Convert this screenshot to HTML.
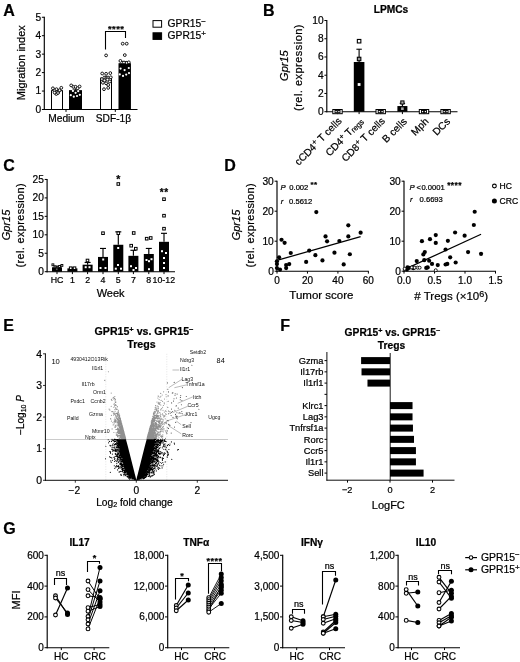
<!DOCTYPE html>
<html><head><meta charset="utf-8"><title>Figure</title>
<style>
html,body{margin:0;padding:0;background:#fff;}
svg{display:block;}
text{font-family:"Liberation Sans",sans-serif;fill:#000;stroke:#000;stroke-width:0.22px;}
</style></head><body>
<svg width="520" height="662" viewBox="0 0 520 662">
<rect width="520" height="662" fill="#fff"/>
<text x="3.2" y="15.9" font-size="16" font-weight="bold">A</text>
<text x="263" y="16" font-size="16" font-weight="bold">B</text>
<text x="3.2" y="171.4" font-size="16" font-weight="bold">C</text>
<text x="224.2" y="171" font-size="16" font-weight="bold">D</text>
<text x="3.2" y="331.1" font-size="16" font-weight="bold">E</text>
<text x="280.2" y="331.1" font-size="16" font-weight="bold">F</text>
<text x="3.2" y="534" font-size="16" font-weight="bold">G</text>
<line x1="44.30" y1="16.75" x2="44.30" y2="110.00" stroke="#000" stroke-width="1.15"/>
<line x1="43.80" y1="109.50" x2="137.50" y2="109.50" stroke="#000" stroke-width="1.15"/>
<line x1="41.90" y1="109.50" x2="44.30" y2="109.50" stroke="#000" stroke-width="1.0"/>
<text x="41.099999999999994" y="112.9" font-size="10.2" text-anchor="end">0</text>
<line x1="41.90" y1="91.05" x2="44.30" y2="91.05" stroke="#000" stroke-width="1.0"/>
<text x="41.099999999999994" y="94.45" font-size="10.2" text-anchor="end">1</text>
<line x1="41.90" y1="72.60" x2="44.30" y2="72.60" stroke="#000" stroke-width="1.0"/>
<text x="41.099999999999994" y="76.0" font-size="10.2" text-anchor="end">2</text>
<line x1="41.90" y1="54.15" x2="44.30" y2="54.15" stroke="#000" stroke-width="1.0"/>
<text x="41.099999999999994" y="57.550000000000004" font-size="10.2" text-anchor="end">3</text>
<line x1="41.90" y1="35.70" x2="44.30" y2="35.70" stroke="#000" stroke-width="1.0"/>
<text x="41.099999999999994" y="39.1" font-size="10.2" text-anchor="end">4</text>
<line x1="41.90" y1="17.25" x2="44.30" y2="17.25" stroke="#000" stroke-width="1.0"/>
<text x="41.099999999999994" y="20.65" font-size="10.2" text-anchor="end">5</text>
<line x1="66.00" y1="109.50" x2="66.00" y2="111.90" stroke="#000" stroke-width="1.0"/>
<line x1="115.30" y1="109.50" x2="115.30" y2="111.90" stroke="#000" stroke-width="1.0"/>
<text x="66.4" y="122.2" font-size="10.2" text-anchor="middle">Medium</text>
<text x="113.4" y="122.2" font-size="10.2" text-anchor="middle">SDF-1β</text>
<text x="25" y="62.7" font-size="11" text-anchor="middle" transform="rotate(-90 25 62.7)" textLength="75">Migration index</text>
<rect x="51.50" y="90.68" width="11.00" height="18.82" fill="#fff" stroke="#000" stroke-width="1.0"/>
<line x1="57.00" y1="89.76" x2="57.00" y2="90.68" stroke="#000" stroke-width="0.9"/>
<line x1="54.00" y1="89.76" x2="60.00" y2="89.76" stroke="#000" stroke-width="0.9"/>
<rect x="69.50" y="90.68" width="12.00" height="18.82" fill="#000" stroke="#000" stroke-width="1.0"/>
<line x1="75.50" y1="89.20" x2="75.50" y2="90.68" stroke="#000" stroke-width="0.9"/>
<line x1="72.50" y1="89.20" x2="78.50" y2="89.20" stroke="#000" stroke-width="0.9"/>
<rect x="100.50" y="78.14" width="11.00" height="31.36" fill="#fff" stroke="#000" stroke-width="1.0"/>
<line x1="106.00" y1="76.29" x2="106.00" y2="78.14" stroke="#000" stroke-width="0.9"/>
<line x1="103.00" y1="76.29" x2="109.00" y2="76.29" stroke="#000" stroke-width="0.9"/>
<rect x="119.00" y="63.74" width="11.40" height="45.76" fill="#000" stroke="#000" stroke-width="1.0"/>
<line x1="124.70" y1="61.53" x2="124.70" y2="63.74" stroke="#000" stroke-width="0.9"/>
<line x1="121.70" y1="61.53" x2="127.70" y2="61.53" stroke="#000" stroke-width="0.9"/>
<circle cx="52.90" cy="88.30" r="1.4" fill="#fff" stroke="#000" stroke-width="0.9"/>
<circle cx="54.60" cy="90.40" r="1.4" fill="#fff" stroke="#000" stroke-width="0.9"/>
<circle cx="56.50" cy="89.20" r="1.4" fill="#fff" stroke="#000" stroke-width="0.9"/>
<circle cx="56.30" cy="94.00" r="1.4" fill="#fff" stroke="#000" stroke-width="0.9"/>
<circle cx="58.50" cy="91.60" r="1.4" fill="#fff" stroke="#000" stroke-width="0.9"/>
<circle cx="59.60" cy="90.20" r="1.4" fill="#fff" stroke="#000" stroke-width="0.9"/>
<circle cx="61.30" cy="87.80" r="1.4" fill="#fff" stroke="#000" stroke-width="0.9"/>
<circle cx="54.60" cy="92.60" r="1.4" fill="#fff" stroke="#000" stroke-width="0.9"/>
<circle cx="58.00" cy="93.00" r="1.4" fill="#fff" stroke="#000" stroke-width="0.9"/>
<circle cx="71.20" cy="85.40" r="1.4" fill="#fff" stroke="#000" stroke-width="0.9"/>
<circle cx="73.40" cy="86.80" r="1.4" fill="#fff" stroke="#000" stroke-width="0.9"/>
<circle cx="75.60" cy="86.80" r="1.4" fill="#fff" stroke="#000" stroke-width="0.9"/>
<circle cx="79.60" cy="86.50" r="1.4" fill="#fff" stroke="#000" stroke-width="0.9"/>
<circle cx="77.60" cy="88.20" r="1.4" fill="#fff" stroke="#000" stroke-width="0.9"/>
<circle cx="72.90" cy="90.90" r="1.1" fill="#fff"/>
<circle cx="78.20" cy="91.20" r="1.1" fill="#fff"/>
<circle cx="70.80" cy="95.20" r="1.1" fill="#fff"/>
<circle cx="73.80" cy="96.70" r="1.1" fill="#fff"/>
<circle cx="77.00" cy="96.00" r="1.1" fill="#fff"/>
<circle cx="79.80" cy="94.80" r="1.1" fill="#fff"/>
<circle cx="75.60" cy="92.80" r="1.1" fill="#fff"/>
<circle cx="106.10" cy="55.40" r="1.4" fill="#fff" stroke="#000" stroke-width="0.9"/>
<circle cx="102.20" cy="73.50" r="1.4" fill="#fff" stroke="#000" stroke-width="0.9"/>
<circle cx="106.10" cy="73.80" r="1.4" fill="#fff" stroke="#000" stroke-width="0.9"/>
<circle cx="110.30" cy="73.10" r="1.4" fill="#fff" stroke="#000" stroke-width="0.9"/>
<circle cx="110.80" cy="77.30" r="1.4" fill="#fff" stroke="#000" stroke-width="0.9"/>
<circle cx="101.90" cy="79.10" r="1.4" fill="#fff" stroke="#000" stroke-width="0.9"/>
<circle cx="104.50" cy="80.50" r="1.4" fill="#fff" stroke="#000" stroke-width="0.9"/>
<circle cx="107.50" cy="79.60" r="1.4" fill="#fff" stroke="#000" stroke-width="0.9"/>
<circle cx="109.80" cy="81.50" r="1.4" fill="#fff" stroke="#000" stroke-width="0.9"/>
<circle cx="102.90" cy="82.80" r="1.4" fill="#fff" stroke="#000" stroke-width="0.9"/>
<circle cx="106.10" cy="83.30" r="1.4" fill="#fff" stroke="#000" stroke-width="0.9"/>
<circle cx="108.20" cy="84.90" r="1.4" fill="#fff" stroke="#000" stroke-width="0.9"/>
<circle cx="104.00" cy="89.20" r="1.4" fill="#fff" stroke="#000" stroke-width="0.9"/>
<circle cx="108.20" cy="87.90" r="1.4" fill="#fff" stroke="#000" stroke-width="0.9"/>
<circle cx="122.70" cy="43.70" r="1.4" fill="#fff" stroke="#000" stroke-width="0.9"/>
<circle cx="126.70" cy="43.70" r="1.4" fill="#fff" stroke="#000" stroke-width="0.9"/>
<circle cx="124.80" cy="55.10" r="1.4" fill="#fff" stroke="#000" stroke-width="0.9"/>
<circle cx="120.40" cy="60.90" r="1.4" fill="#fff" stroke="#000" stroke-width="0.9"/>
<circle cx="124.00" cy="62.50" r="1.4" fill="#fff" stroke="#000" stroke-width="0.9"/>
<circle cx="126.70" cy="62.80" r="1.4" fill="#fff" stroke="#000" stroke-width="0.9"/>
<circle cx="128.80" cy="62.30" r="1.4" fill="#fff" stroke="#000" stroke-width="0.9"/>
<circle cx="120.60" cy="68.60" r="1.1" fill="#fff"/>
<circle cx="128.80" cy="68.00" r="1.1" fill="#fff"/>
<circle cx="124.60" cy="70.10" r="1.1" fill="#fff"/>
<circle cx="129.00" cy="73.10" r="1.1" fill="#fff"/>
<circle cx="119.80" cy="74.40" r="1.1" fill="#fff"/>
<circle cx="126.20" cy="74.60" r="1.1" fill="#fff"/>
<circle cx="123.00" cy="75.90" r="1.1" fill="#fff"/>
<polyline points="105.50,49.50 105.50,31.50 125.50,31.50 125.50,38.00" fill="none" stroke="#000" stroke-width="1.1"/>
<text x="116.2" y="31.6" font-size="9.4" text-anchor="middle" font-weight="bold" letter-spacing="0.5">****</text>
<rect x="153.00" y="20.60" width="8.60" height="6.60" fill="#fff" stroke="#000" stroke-width="1.0"/>
<rect x="153.00" y="32.80" width="8.60" height="6.60" fill="#000" stroke="#000" stroke-width="1.0"/>
<text x="167.5" y="27.3" font-size="10.3">GPR15<tspan font-size="78%" dy="-0.42em">−</tspan></text>
<text x="167.5" y="39.3" font-size="10.3">GPR15<tspan font-size="78%" dy="-0.42em">+</tspan></text>
<line x1="326.80" y1="20.00" x2="326.80" y2="112.20" stroke="#000" stroke-width="1.15"/>
<line x1="326.30" y1="111.70" x2="457.50" y2="111.70" stroke="#000" stroke-width="1.15"/>
<line x1="324.40" y1="111.70" x2="326.80" y2="111.70" stroke="#000" stroke-width="1.0"/>
<text x="323.6" y="115.10000000000001" font-size="10.2" text-anchor="end">0</text>
<line x1="324.40" y1="93.46" x2="326.80" y2="93.46" stroke="#000" stroke-width="1.0"/>
<text x="323.6" y="96.86000000000001" font-size="10.2" text-anchor="end">2</text>
<line x1="324.40" y1="75.22" x2="326.80" y2="75.22" stroke="#000" stroke-width="1.0"/>
<text x="323.6" y="78.62" font-size="10.2" text-anchor="end">4</text>
<line x1="324.40" y1="56.98" x2="326.80" y2="56.98" stroke="#000" stroke-width="1.0"/>
<text x="323.6" y="60.38" font-size="10.2" text-anchor="end">6</text>
<line x1="324.40" y1="38.74" x2="326.80" y2="38.74" stroke="#000" stroke-width="1.0"/>
<text x="323.6" y="42.14000000000001" font-size="10.2" text-anchor="end">8</text>
<line x1="324.40" y1="20.50" x2="326.80" y2="20.50" stroke="#000" stroke-width="1.0"/>
<text x="323.6" y="23.900000000000013" font-size="10.2" text-anchor="end">10</text>
<text x="391" y="12.6" font-size="10.2" text-anchor="middle" font-weight="bold">LPMCs</text>
<text x="287.9" y="65.6" font-size="11" text-anchor="middle" font-style="italic" transform="rotate(-90 287.9 65.6)">Gpr15</text>
<text x="302.2" y="67.7" font-size="11" text-anchor="middle" transform="rotate(-90 302.2 67.7)" textLength="86.5">(rel. expression)</text>
<line x1="337.50" y1="111.70" x2="337.50" y2="114.10" stroke="#000" stroke-width="1.0"/>
<text x="342.7" y="122.10000000000001" font-size="10.2" text-anchor="end" transform="rotate(-45 342.7 122.10000000000001)">cCD4<tspan font-size="78%" dy="-0.42em">+</tspan><tspan dy="0.28em"> T cells</tspan></text>
<line x1="359.10" y1="111.70" x2="359.10" y2="114.10" stroke="#000" stroke-width="1.0"/>
<text x="364.3" y="122.10000000000001" font-size="10.2" text-anchor="end" transform="rotate(-45 364.3 122.10000000000001)">CD4<tspan font-size="78%" dy="-0.42em">+</tspan><tspan dy="0.28em"> T</tspan><tspan font-size="76%" dy="0.12em">regs</tspan></text>
<line x1="380.70" y1="111.70" x2="380.70" y2="114.10" stroke="#000" stroke-width="1.0"/>
<text x="385.9" y="122.10000000000001" font-size="10.2" text-anchor="end" transform="rotate(-45 385.9 122.10000000000001)">CD8<tspan font-size="78%" dy="-0.42em">+</tspan><tspan dy="0.28em"> T cells</tspan></text>
<line x1="402.40" y1="111.70" x2="402.40" y2="114.10" stroke="#000" stroke-width="1.0"/>
<text x="407.59999999999997" y="122.10000000000001" font-size="10.2" text-anchor="end" transform="rotate(-45 407.59999999999997 122.10000000000001)">B cells</text>
<line x1="424.00" y1="111.70" x2="424.00" y2="114.10" stroke="#000" stroke-width="1.0"/>
<text x="429.2" y="122.10000000000001" font-size="10.2" text-anchor="end" transform="rotate(-45 429.2 122.10000000000001)">Mph</text>
<line x1="445.60" y1="111.70" x2="445.60" y2="114.10" stroke="#000" stroke-width="1.0"/>
<text x="450.8" y="122.10000000000001" font-size="10.2" text-anchor="end" transform="rotate(-45 450.8 122.10000000000001)">DCs</text>
<rect x="353.80" y="62.00" width="10.60" height="49.70" fill="#000"/>
<line x1="359.10" y1="49.23" x2="359.10" y2="62.00" stroke="#000" stroke-width="1.1"/>
<line x1="356.40" y1="49.23" x2="361.80" y2="49.23" stroke="#000" stroke-width="1.1"/>
<rect x="397.40" y="106.05" width="10.00" height="5.65" fill="#000"/>
<line x1="402.40" y1="103.31" x2="402.40" y2="106.05" stroke="#000" stroke-width="1.1"/>
<line x1="399.70" y1="103.31" x2="405.10" y2="103.31" stroke="#000" stroke-width="1.1"/>
<rect x="332.80" y="109.50" width="9.40" height="4.20" fill="#fff" stroke="#000" stroke-width="1.0"/>
<rect x="335.00" y="110.50" width="2.20" height="2.20" fill="#fff" stroke="#000" stroke-width="0.9"/>
<rect x="337.80" y="110.50" width="2.20" height="2.20" fill="#fff" stroke="#000" stroke-width="0.9"/>
<rect x="376.00" y="109.50" width="9.40" height="4.20" fill="#fff" stroke="#000" stroke-width="1.0"/>
<rect x="378.20" y="110.50" width="2.20" height="2.20" fill="#fff" stroke="#000" stroke-width="0.9"/>
<rect x="381.00" y="110.50" width="2.20" height="2.20" fill="#fff" stroke="#000" stroke-width="0.9"/>
<rect x="419.30" y="109.50" width="9.40" height="4.20" fill="#fff" stroke="#000" stroke-width="1.0"/>
<rect x="421.50" y="110.50" width="2.20" height="2.20" fill="#fff" stroke="#000" stroke-width="0.9"/>
<rect x="424.30" y="110.50" width="2.20" height="2.20" fill="#fff" stroke="#000" stroke-width="0.9"/>
<rect x="440.90" y="109.50" width="9.40" height="4.20" fill="#fff" stroke="#000" stroke-width="1.0"/>
<rect x="443.10" y="110.50" width="2.20" height="2.20" fill="#fff" stroke="#000" stroke-width="0.9"/>
<rect x="445.90" y="110.50" width="2.20" height="2.20" fill="#fff" stroke="#000" stroke-width="0.9"/>
<rect x="357.35" y="39.45" width="3.50" height="3.50" fill="#fff" stroke="#000" stroke-width="1.1"/>
<rect x="357.35" y="57.25" width="3.50" height="3.50" fill="#999" stroke="#000" stroke-width="1.1"/>
<rect x="357.70" y="83.10" width="2.80" height="2.80" fill="#fff"/>
<rect x="400.80" y="100.90" width="3.20" height="3.20" fill="#aaa" stroke="#000" stroke-width="1.0"/>
<rect x="401.10" y="107.40" width="2.60" height="2.60" fill="#aaa"/>
<line x1="47.10" y1="178.95" x2="47.10" y2="272.20" stroke="#000" stroke-width="1.15"/>
<line x1="46.60" y1="271.70" x2="175.00" y2="271.70" stroke="#000" stroke-width="1.15"/>
<line x1="44.70" y1="271.70" x2="47.10" y2="271.70" stroke="#000" stroke-width="1.0"/>
<text x="43.9" y="275.09999999999997" font-size="10.2" text-anchor="end">0</text>
<line x1="44.70" y1="253.25" x2="47.10" y2="253.25" stroke="#000" stroke-width="1.0"/>
<text x="43.9" y="256.65" font-size="10.2" text-anchor="end">5</text>
<line x1="44.70" y1="234.80" x2="47.10" y2="234.80" stroke="#000" stroke-width="1.0"/>
<text x="43.9" y="238.2" font-size="10.2" text-anchor="end">10</text>
<line x1="44.70" y1="216.35" x2="47.10" y2="216.35" stroke="#000" stroke-width="1.0"/>
<text x="43.9" y="219.75" font-size="10.2" text-anchor="end">15</text>
<line x1="44.70" y1="197.90" x2="47.10" y2="197.90" stroke="#000" stroke-width="1.0"/>
<text x="43.9" y="201.29999999999998" font-size="10.2" text-anchor="end">20</text>
<line x1="44.70" y1="179.45" x2="47.10" y2="179.45" stroke="#000" stroke-width="1.0"/>
<text x="43.9" y="182.85" font-size="10.2" text-anchor="end">25</text>
<text x="10.4" y="225" font-size="11" text-anchor="middle" font-style="italic" transform="rotate(-90 10.4 225)">Gpr15</text>
<text x="24" y="225.4" font-size="11" text-anchor="middle" transform="rotate(-90 24 225.4)" textLength="84">(rel. expression)</text>
<line x1="57.00" y1="271.70" x2="57.00" y2="274.10" stroke="#000" stroke-width="1.0"/>
<text x="57" y="283.3" font-size="8.8" text-anchor="middle">HC</text>
<rect x="52.00" y="267.27" width="10.00" height="4.43" fill="#000"/>
<line x1="57.00" y1="266.16" x2="57.00" y2="267.27" stroke="#000" stroke-width="1.15"/>
<line x1="54.00" y1="266.16" x2="60.00" y2="266.16" stroke="#000" stroke-width="1.15"/>
<line x1="72.40" y1="271.70" x2="72.40" y2="274.10" stroke="#000" stroke-width="1.0"/>
<text x="72.4" y="283.3" font-size="8.8" text-anchor="middle">1</text>
<rect x="67.40" y="268.38" width="10.00" height="3.32" fill="#000"/>
<line x1="72.40" y1="267.83" x2="72.40" y2="268.38" stroke="#000" stroke-width="1.15"/>
<line x1="69.40" y1="267.83" x2="75.40" y2="267.83" stroke="#000" stroke-width="1.15"/>
<line x1="87.60" y1="271.70" x2="87.60" y2="274.10" stroke="#000" stroke-width="1.0"/>
<text x="87.6" y="283.3" font-size="8.8" text-anchor="middle">2</text>
<rect x="82.60" y="264.69" width="10.00" height="7.01" fill="#000"/>
<line x1="87.60" y1="262.47" x2="87.60" y2="264.69" stroke="#000" stroke-width="1.15"/>
<line x1="84.60" y1="262.47" x2="90.60" y2="262.47" stroke="#000" stroke-width="1.15"/>
<line x1="103.00" y1="271.70" x2="103.00" y2="274.10" stroke="#000" stroke-width="1.0"/>
<text x="103" y="283.3" font-size="8.8" text-anchor="middle">4</text>
<rect x="98.00" y="256.94" width="10.00" height="14.76" fill="#000"/>
<line x1="103.00" y1="248.45" x2="103.00" y2="256.94" stroke="#000" stroke-width="1.15"/>
<line x1="100.00" y1="248.45" x2="106.00" y2="248.45" stroke="#000" stroke-width="1.15"/>
<line x1="118.30" y1="271.70" x2="118.30" y2="274.10" stroke="#000" stroke-width="1.0"/>
<text x="118.3" y="283.3" font-size="8.8" text-anchor="middle">5</text>
<rect x="113.30" y="244.76" width="10.00" height="26.94" fill="#000"/>
<line x1="118.30" y1="231.85" x2="118.30" y2="244.76" stroke="#000" stroke-width="1.15"/>
<line x1="115.30" y1="231.85" x2="121.30" y2="231.85" stroke="#000" stroke-width="1.15"/>
<line x1="133.40" y1="271.70" x2="133.40" y2="274.10" stroke="#000" stroke-width="1.0"/>
<text x="133.4" y="283.3" font-size="8.8" text-anchor="middle">7</text>
<rect x="128.40" y="255.83" width="10.00" height="15.87" fill="#000"/>
<line x1="133.40" y1="250.30" x2="133.40" y2="255.83" stroke="#000" stroke-width="1.15"/>
<line x1="130.40" y1="250.30" x2="136.40" y2="250.30" stroke="#000" stroke-width="1.15"/>
<line x1="148.80" y1="271.70" x2="148.80" y2="274.10" stroke="#000" stroke-width="1.0"/>
<text x="148.8" y="283.3" font-size="8.8" text-anchor="middle">8</text>
<rect x="143.80" y="253.99" width="10.00" height="17.71" fill="#000"/>
<line x1="148.80" y1="248.45" x2="148.80" y2="253.99" stroke="#000" stroke-width="1.15"/>
<line x1="145.80" y1="248.45" x2="151.80" y2="248.45" stroke="#000" stroke-width="1.15"/>
<line x1="164.00" y1="271.70" x2="164.00" y2="274.10" stroke="#000" stroke-width="1.0"/>
<text x="163.8" y="283.3" font-size="8.8" text-anchor="middle">10-12</text>
<rect x="159.00" y="241.81" width="10.00" height="29.89" fill="#000"/>
<line x1="164.00" y1="233.32" x2="164.00" y2="241.81" stroke="#000" stroke-width="1.15"/>
<line x1="161.00" y1="233.32" x2="167.00" y2="233.32" stroke="#000" stroke-width="1.15"/>
<text x="110.6" y="297" font-size="11" text-anchor="middle">Week</text>
<rect x="69.40" y="266.90" width="2.60" height="2.60" fill="#fff" stroke="#000" stroke-width="1.0"/>
<rect x="73.20" y="266.90" width="2.60" height="2.60" fill="#fff" stroke="#000" stroke-width="1.0"/>
<rect x="86.20" y="259.20" width="2.60" height="2.60" fill="#fff" stroke="#000" stroke-width="1.0"/>
<rect x="101.70" y="231.90" width="2.60" height="2.60" fill="#fff" stroke="#000" stroke-width="1.0"/>
<rect x="117.00" y="182.70" width="2.60" height="2.60" fill="#fff" stroke="#000" stroke-width="1.0"/>
<rect x="117.00" y="231.90" width="2.60" height="2.60" fill="#fff" stroke="#000" stroke-width="1.0"/>
<rect x="132.40" y="231.70" width="2.60" height="2.60" fill="#fff" stroke="#000" stroke-width="1.0"/>
<rect x="129.90" y="244.40" width="2.60" height="2.60" fill="#fff" stroke="#000" stroke-width="1.0"/>
<rect x="134.50" y="247.40" width="2.60" height="2.60" fill="#fff" stroke="#000" stroke-width="1.0"/>
<rect x="145.40" y="237.40" width="2.60" height="2.60" fill="#fff" stroke="#000" stroke-width="1.0"/>
<rect x="149.40" y="236.70" width="2.60" height="2.60" fill="#fff" stroke="#000" stroke-width="1.0"/>
<rect x="162.70" y="197.90" width="2.60" height="2.60" fill="#fff" stroke="#000" stroke-width="1.0"/>
<rect x="162.70" y="214.40" width="2.60" height="2.60" fill="#fff" stroke="#000" stroke-width="1.0"/>
<rect x="162.70" y="227.40" width="2.60" height="2.60" fill="#fff" stroke="#000" stroke-width="1.0"/>
<rect x="51.95" y="263.85" width="1.90" height="1.90" fill="#fff" stroke="#000" stroke-width="0.9"/>
<rect x="54.05" y="265.95" width="1.90" height="1.90" fill="#fff" stroke="#000" stroke-width="0.9"/>
<rect x="55.95" y="268.15" width="1.90" height="1.90" fill="#fff" stroke="#000" stroke-width="0.9"/>
<rect x="58.65" y="265.55" width="1.90" height="1.90" fill="#fff" stroke="#000" stroke-width="0.9"/>
<rect x="60.95" y="264.45" width="1.90" height="1.90" fill="#fff" stroke="#000" stroke-width="0.9"/>
<rect x="84.70" y="266.20" width="2.00" height="2.00" fill="#fff"/>
<rect x="88.50" y="266.20" width="2.00" height="2.00" fill="#fff"/>
<rect x="102.20" y="258.50" width="2.00" height="2.00" fill="#fff"/>
<rect x="99.50" y="267.00" width="2.00" height="2.00" fill="#fff"/>
<rect x="104.50" y="267.00" width="2.00" height="2.00" fill="#fff"/>
<rect x="117.20" y="247.00" width="2.00" height="2.00" fill="#fff"/>
<rect x="117.00" y="264.00" width="2.00" height="2.00" fill="#fff"/>
<rect x="114.80" y="267.70" width="2.00" height="2.00" fill="#fff"/>
<rect x="120.00" y="267.70" width="2.00" height="2.00" fill="#fff"/>
<rect x="130.00" y="265.20" width="2.00" height="2.00" fill="#fff"/>
<rect x="132.50" y="269.00" width="2.00" height="2.00" fill="#fff"/>
<rect x="135.00" y="267.00" width="2.00" height="2.00" fill="#fff"/>
<rect x="145.50" y="259.00" width="2.00" height="2.00" fill="#fff"/>
<rect x="148.00" y="260.20" width="2.00" height="2.00" fill="#fff"/>
<rect x="150.50" y="258.20" width="2.00" height="2.00" fill="#fff"/>
<rect x="148.00" y="268.20" width="2.00" height="2.00" fill="#fff"/>
<rect x="161.00" y="250.20" width="2.00" height="2.00" fill="#fff"/>
<rect x="165.00" y="252.00" width="2.00" height="2.00" fill="#fff"/>
<rect x="163.00" y="257.00" width="2.00" height="2.00" fill="#fff"/>
<rect x="163.00" y="262.00" width="2.00" height="2.00" fill="#fff"/>
<rect x="163.00" y="267.00" width="2.00" height="2.00" fill="#fff"/>
<text x="118.3" y="182.6" font-size="10.5" text-anchor="middle" font-weight="bold">*</text>
<text x="164.2" y="195.8" font-size="10" text-anchor="middle" font-weight="bold" letter-spacing="0.5">**</text>
<line x1="277.00" y1="180.70" x2="277.00" y2="271.70" stroke="#000" stroke-width="1.15"/>
<line x1="276.50" y1="271.20" x2="368.80" y2="271.20" stroke="#000" stroke-width="1.15"/>
<line x1="274.60" y1="271.20" x2="277.00" y2="271.20" stroke="#000" stroke-width="1.0"/>
<text x="273.8" y="274.59999999999997" font-size="10.2" text-anchor="end">0</text>
<line x1="274.60" y1="241.20" x2="277.00" y2="241.20" stroke="#000" stroke-width="1.0"/>
<text x="273.8" y="244.6" font-size="10.2" text-anchor="end">10</text>
<line x1="274.60" y1="211.20" x2="277.00" y2="211.20" stroke="#000" stroke-width="1.0"/>
<text x="273.8" y="214.6" font-size="10.2" text-anchor="end">20</text>
<line x1="274.60" y1="181.20" x2="277.00" y2="181.20" stroke="#000" stroke-width="1.0"/>
<text x="273.8" y="184.6" font-size="10.2" text-anchor="end">30</text>
<line x1="277.00" y1="271.20" x2="277.00" y2="273.60" stroke="#000" stroke-width="1.0"/>
<text x="277.0" y="284.4" font-size="10" text-anchor="middle">0</text>
<line x1="307.46" y1="271.20" x2="307.46" y2="273.60" stroke="#000" stroke-width="1.0"/>
<text x="307.46" y="284.4" font-size="10" text-anchor="middle">20</text>
<line x1="337.92" y1="271.20" x2="337.92" y2="273.60" stroke="#000" stroke-width="1.0"/>
<text x="337.92" y="284.4" font-size="10" text-anchor="middle">40</text>
<line x1="368.38" y1="271.20" x2="368.38" y2="273.60" stroke="#000" stroke-width="1.0"/>
<text x="368.38" y="284.4" font-size="10" text-anchor="middle">60</text>
<text x="321.4" y="298.7" font-size="11.5" text-anchor="middle">Tumor score</text>
<text x="240.3" y="225" font-size="11" text-anchor="middle" font-style="italic" transform="rotate(-90 240.3 225)">Gpr15</text>
<text x="253.6" y="225.4" font-size="11" text-anchor="middle" transform="rotate(-90 253.6 225.4)" textLength="84">(rel. expression)</text>
<line x1="276.92" y1="260.38" x2="360.62" y2="236.69" stroke="#000" stroke-width="1.25"/>
<circle cx="316.31" cy="212.08" r="2.1" fill="#000"/>
<circle cx="281.54" cy="239.77" r="2.1" fill="#000"/>
<circle cx="284.62" cy="242.85" r="2.1" fill="#000"/>
<circle cx="348.31" cy="225.31" r="2.1" fill="#000"/>
<circle cx="325.54" cy="236.38" r="2.1" fill="#000"/>
<circle cx="327.08" cy="241.31" r="2.1" fill="#000"/>
<circle cx="348.31" cy="236.38" r="2.1" fill="#000"/>
<circle cx="360.62" cy="232.69" r="2.1" fill="#000"/>
<circle cx="339.38" cy="241.00" r="2.1" fill="#000"/>
<circle cx="290.77" cy="253.00" r="2.1" fill="#000"/>
<circle cx="309.23" cy="250.54" r="2.1" fill="#000"/>
<circle cx="315.38" cy="255.15" r="2.1" fill="#000"/>
<circle cx="334.46" cy="252.69" r="2.1" fill="#000"/>
<circle cx="349.85" cy="254.23" r="2.1" fill="#000"/>
<circle cx="306.15" cy="261.92" r="2.1" fill="#000"/>
<circle cx="322.46" cy="260.38" r="2.1" fill="#000"/>
<circle cx="343.69" cy="264.38" r="2.1" fill="#000"/>
<circle cx="279.08" cy="257.31" r="2.1" fill="#000"/>
<circle cx="276.92" cy="261.31" r="2.1" fill="#000"/>
<circle cx="276.92" cy="264.08" r="2.1" fill="#000"/>
<circle cx="276.92" cy="268.08" r="2.1" fill="#000"/>
<circle cx="280.00" cy="269.62" r="2.1" fill="#000"/>
<circle cx="286.15" cy="265.00" r="2.1" fill="#000"/>
<circle cx="286.15" cy="268.08" r="2.1" fill="#000"/>
<circle cx="289.23" cy="264.08" r="2.1" fill="#000"/>
<text x="280.6" y="190.4" font-size="7.8" font-style="italic">P</text>
<text x="289.3" y="190.4" font-size="7.6">0.002</text>
<text x="310.5" y="187.3" font-size="8" font-weight="bold" letter-spacing="0.4">**</text>
<text x="280.8" y="203.8" font-size="7.8" font-style="italic">r</text>
<text x="289.1" y="203.8" font-size="7.6">0.5612</text>
<line x1="404.00" y1="180.70" x2="404.00" y2="271.70" stroke="#000" stroke-width="1.15"/>
<line x1="403.50" y1="271.20" x2="496.00" y2="271.20" stroke="#000" stroke-width="1.15"/>
<line x1="401.60" y1="271.20" x2="404.00" y2="271.20" stroke="#000" stroke-width="1.0"/>
<text x="400.8" y="274.59999999999997" font-size="10.2" text-anchor="end">0</text>
<line x1="401.60" y1="241.20" x2="404.00" y2="241.20" stroke="#000" stroke-width="1.0"/>
<text x="400.8" y="244.6" font-size="10.2" text-anchor="end">10</text>
<line x1="401.60" y1="211.20" x2="404.00" y2="211.20" stroke="#000" stroke-width="1.0"/>
<text x="400.8" y="214.6" font-size="10.2" text-anchor="end">20</text>
<line x1="401.60" y1="181.20" x2="404.00" y2="181.20" stroke="#000" stroke-width="1.0"/>
<text x="400.8" y="184.6" font-size="10.2" text-anchor="end">30</text>
<line x1="404.00" y1="271.20" x2="404.00" y2="273.60" stroke="#000" stroke-width="1.0"/>
<text x="404.0" y="284.4" font-size="10" text-anchor="middle">0.0</text>
<line x1="434.50" y1="271.20" x2="434.50" y2="273.60" stroke="#000" stroke-width="1.0"/>
<text x="434.5" y="284.4" font-size="10" text-anchor="middle">0.5</text>
<line x1="465.00" y1="271.20" x2="465.00" y2="273.60" stroke="#000" stroke-width="1.0"/>
<text x="465.0" y="284.4" font-size="10" text-anchor="middle">1.0</text>
<line x1="495.50" y1="271.20" x2="495.50" y2="273.60" stroke="#000" stroke-width="1.0"/>
<text x="495.5" y="284.4" font-size="10" text-anchor="middle">1.5</text>
<text x="451.2" y="300" font-size="11.5" text-anchor="middle"># Tregs (×10<tspan font-size="78%" dy="-0.36em">6</tspan><tspan dy="0.28em">)</tspan></text>
<line x1="404.61" y1="269.41" x2="481.05" y2="234.22" stroke="#000" stroke-width="1.25"/>
<circle cx="474.70" cy="211.73" r="2.1" fill="#000"/>
<circle cx="473.84" cy="224.99" r="2.1" fill="#000"/>
<circle cx="455.09" cy="232.49" r="2.1" fill="#000"/>
<circle cx="435.76" cy="235.09" r="2.1" fill="#000"/>
<circle cx="464.61" cy="235.67" r="2.1" fill="#000"/>
<circle cx="429.99" cy="239.13" r="2.1" fill="#000"/>
<circle cx="421.92" cy="241.15" r="2.1" fill="#000"/>
<circle cx="447.88" cy="240.86" r="2.1" fill="#000"/>
<circle cx="435.76" cy="242.88" r="2.1" fill="#000"/>
<circle cx="445.57" cy="249.51" r="2.1" fill="#000"/>
<circle cx="468.07" cy="252.11" r="2.1" fill="#000"/>
<circle cx="481.05" cy="253.84" r="2.1" fill="#000"/>
<circle cx="424.80" cy="252.11" r="2.1" fill="#000"/>
<circle cx="423.36" cy="254.41" r="2.1" fill="#000"/>
<circle cx="416.73" cy="261.05" r="2.1" fill="#000"/>
<circle cx="424.23" cy="260.18" r="2.1" fill="#000"/>
<circle cx="429.13" cy="260.76" r="2.1" fill="#000"/>
<circle cx="450.18" cy="257.30" r="2.1" fill="#000"/>
<circle cx="455.66" cy="262.49" r="2.1" fill="#000"/>
<circle cx="432.01" cy="263.93" r="2.1" fill="#000"/>
<circle cx="437.78" cy="265.09" r="2.1" fill="#000"/>
<circle cx="445.57" cy="264.51" r="2.1" fill="#000"/>
<circle cx="447.30" cy="263.93" r="2.1" fill="#000"/>
<circle cx="426.24" cy="267.97" r="2.1" fill="#000"/>
<circle cx="427.69" cy="267.39" r="2.1" fill="#000"/>
<circle cx="407.50" cy="267.39" r="2.1" fill="#000"/>
<circle cx="408.94" cy="267.97" r="2.1" fill="#000"/>
<circle cx="413.27" cy="268.26" r="2.1" fill="#000"/>
<circle cx="406.92" cy="269.41" r="2.1" fill="#000"/>
<circle cx="411.82" cy="267.39" r="1.5" fill="#fff" stroke="#000" stroke-width="0.9"/>
<circle cx="414.71" cy="267.68" r="1.5" fill="#fff" stroke="#000" stroke-width="0.9"/>
<circle cx="417.59" cy="267.68" r="1.5" fill="#fff" stroke="#000" stroke-width="0.9"/>
<circle cx="419.61" cy="267.68" r="1.5" fill="#fff" stroke="#000" stroke-width="0.9"/>
<circle cx="435.76" cy="270.28" r="1.5" fill="#fff" stroke="#000" stroke-width="0.9"/>
<circle cx="404.61" cy="268.84" r="1.5" fill="#fff" stroke="#000" stroke-width="0.9"/>
<text x="409.5" y="190" font-size="7.8" font-style="italic">P</text>
<text x="416.6" y="190" font-size="7.6">&lt;</text>
<text x="421.4" y="190" font-size="7.6">0.0001</text>
<text x="447.2" y="187.6" font-size="8.4" font-weight="bold" letter-spacing="0.4">****</text>
<text x="410" y="202.4" font-size="7.8" font-style="italic">r</text>
<text x="419.6" y="202.4" font-size="7.6">0.6693</text>
<circle cx="494.40" cy="186.00" r="1.9" fill="#fff" stroke="#000" stroke-width="1.1"/>
<text x="499.5" y="189" font-size="8.6">HC</text>
<circle cx="494.40" cy="201.00" r="2.5" fill="#000"/>
<text x="499.5" y="204" font-size="8.6">CRC</text>
<line x1="45.40" y1="439.50" x2="228.00" y2="439.50" stroke="#a0a0a0" stroke-width="0.55"/>
<path d="M123.7 433.8h.01M123.8 433.9h.01M121.7 429.7h.01M109.1 409.1h.01M113.7 397.3h.01M119.9 424.1h.01M112.1 428.9h.01M124.7 438.6h.01M122.9 434.8h.01M118.0 437.1h.01M124.5 437.2h.01M124.7 437.9h.01M122.7 427.6h.01M123.8 437.6h.01M121.3 430.9h.01M122.5 436.7h.01M120.2 428.0h.01M124.5 438.1h.01M122.8 439.1h.01M114.4 414.5h.01M125.1 439.0h.01M122.8 432.6h.01M123.1 438.2h.01M123.9 436.1h.01M124.2 438.1h.01M125.3 438.0h.01M123.6 433.1h.01M122.0 426.4h.01M124.5 434.6h.01M124.3 437.1h.01M122.9 432.2h.01M121.4 423.0h.01M121.3 423.0h.01M116.3 409.2h.01M123.1 434.7h.01M114.7 422.2h.01M124.6 434.6h.01M122.8 437.8h.01M120.6 427.9h.01M124.2 437.7h.01M125.6 438.9h.01M119.5 436.1h.01M120.2 430.4h.01M124.9 438.8h.01M125.1 438.5h.01M121.6 438.2h.01M123.8 435.8h.01M119.6 430.1h.01M117.5 414.2h.01M120.3 433.3h.01M124.1 434.9h.01M122.3 427.7h.01M123.9 435.3h.01M123.6 433.7h.01M123.6 434.4h.01M122.9 438.8h.01M124.5 438.6h.01M123.2 432.4h.01M125.1 437.0h.01M124.2 435.2h.01M123.9 433.5h.01M121.5 427.4h.01M125.0 439.1h.01M118.4 410.2h.01M118.2 431.5h.01M123.3 435.3h.01M124.2 435.3h.01M122.2 431.2h.01M123.9 436.0h.01M121.8 433.0h.01M125.5 438.7h.01M124.7 436.7h.01M121.3 425.6h.01M120.5 422.4h.01M123.2 436.3h.01M119.2 438.4h.01M121.1 424.0h.01M122.2 435.9h.01M120.4 425.9h.01M123.4 438.7h.01M124.2 438.8h.01M119.5 432.3h.01M123.5 430.5h.01M116.8 415.9h.01M123.9 431.8h.01M121.9 427.8h.01M115.9 429.5h.01M120.2 418.0h.01M121.4 426.2h.01M121.9 427.3h.01M123.5 434.1h.01M124.9 438.1h.01M122.8 427.9h.01M122.7 438.1h.01M122.0 429.8h.01M125.3 438.2h.01M120.0 436.0h.01M119.6 432.2h.01M124.4 437.2h.01M121.0 432.6h.01M122.3 438.1h.01M124.3 433.7h.01M123.8 434.4h.01M118.6 429.6h.01M122.3 433.4h.01M122.2 435.0h.01M123.4 438.2h.01M124.0 437.6h.01M124.6 437.3h.01M124.7 437.7h.01M122.6 431.6h.01M123.3 435.0h.01M120.9 423.4h.01M122.7 431.7h.01M116.2 405.5h.01M122.7 429.0h.01M123.0 436.6h.01M123.4 431.9h.01M123.0 438.6h.01M122.7 435.1h.01M123.0 434.4h.01M117.6 432.2h.01M119.3 418.7h.01M123.9 433.5h.01M122.5 427.3h.01M122.0 436.1h.01M123.9 438.9h.01M122.6 432.0h.01M124.6 435.7h.01M115.9 413.5h.01M122.0 425.2h.01M122.0 426.1h.01M124.1 437.3h.01M123.5 431.2h.01M121.0 426.8h.01M115.4 419.6h.01M122.4 429.2h.01M116.3 413.4h.01M121.9 436.3h.01M122.4 428.1h.01M125.1 436.7h.01M123.6 432.6h.01M124.6 436.2h.01M124.5 438.0h.01M124.6 436.5h.01M123.9 436.4h.01M120.9 421.5h.01M117.6 422.4h.01M122.4 431.2h.01M121.5 427.9h.01M118.9 430.0h.01M122.0 426.5h.01M121.4 438.7h.01M122.3 435.3h.01M124.3 436.9h.01M122.6 435.2h.01M117.9 414.6h.01M123.2 432.1h.01M120.5 436.9h.01M121.2 438.2h.01M123.3 430.1h.01M120.5 419.4h.01M123.8 432.1h.01M115.0 400.8h.01M121.2 421.6h.01M123.3 429.8h.01M124.4 438.9h.01M114.0 404.5h.01M118.5 422.7h.01M124.0 432.9h.01M123.8 432.8h.01M123.4 432.8h.01M123.9 433.3h.01M122.1 428.8h.01M124.2 433.5h.01M123.0 433.5h.01M116.0 408.5h.01M124.9 438.0h.01M122.9 435.7h.01M111.4 415.3h.01M113.4 413.6h.01M116.0 422.5h.01M124.7 439.0h.01M121.8 431.6h.01M122.1 431.1h.01M119.7 416.1h.01M118.7 432.9h.01M125.5 438.9h.01M115.0 421.8h.01M125.7 439.0h.01M119.6 424.1h.01M122.7 432.9h.01M119.6 427.1h.01M125.7 439.2h.01M115.2 425.7h.01M120.9 423.9h.01M124.2 435.7h.01M123.5 439.1h.01M123.7 436.6h.01M123.5 432.8h.01M122.2 429.6h.01M121.8 436.9h.01M125.1 437.5h.01M124.1 436.7h.01M121.7 426.1h.01M123.5 436.9h.01M124.0 436.6h.01M121.8 436.7h.01M124.9 437.5h.01M124.4 436.1h.01M120.9 428.1h.01M120.9 425.9h.01M123.4 438.5h.01M124.8 436.8h.01M117.0 434.6h.01M124.1 435.2h.01M110.6 418.5h.01M124.5 435.0h.01M119.5 425.9h.01M122.3 435.7h.01M124.2 435.1h.01M121.5 431.5h.01M121.5 433.7h.01M124.7 439.1h.01M124.6 435.1h.01M120.1 418.2h.01M122.0 437.2h.01M112.5 411.6h.01M120.5 435.6h.01M123.5 437.9h.01M119.0 414.3h.01M123.7 437.9h.01M118.5 420.9h.01M117.9 413.7h.01M124.6 435.2h.01M120.6 436.5h.01M125.3 438.6h.01M124.8 435.5h.01M124.7 436.1h.01M124.3 438.1h.01M122.7 432.6h.01M121.3 426.9h.01M119.2 414.1h.01M125.1 437.0h.01M122.7 436.0h.01M118.6 417.2h.01M124.8 437.7h.01M123.4 432.0h.01M115.5 425.8h.01M122.9 433.9h.01M120.5 423.2h.01M120.8 437.4h.01M117.4 406.6h.01M121.7 426.9h.01M125.4 438.7h.01M123.3 437.6h.01M125.2 437.2h.01M122.7 437.1h.01M122.5 433.3h.01M124.1 433.9h.01M125.2 439.1h.01M125.2 438.8h.01M122.9 431.0h.01M122.7 433.7h.01M124.2 435.9h.01M119.3 420.8h.01M123.3 434.6h.01M123.8 433.9h.01M119.9 418.3h.01M115.6 415.7h.01M120.8 421.0h.01M117.1 433.1h.01M124.7 436.3h.01M122.5 428.2h.01M123.6 431.7h.01M118.6 414.0h.01M123.8 438.3h.01M123.5 435.6h.01M120.0 433.3h.01M123.4 433.0h.01M124.7 439.2h.01M123.7 436.5h.01M122.5 430.7h.01M124.5 438.4h.01M122.6 433.6h.01M117.3 409.2h.01M124.4 434.2h.01M121.8 425.5h.01M118.8 424.1h.01M121.4 436.7h.01M123.3 433.2h.01M119.0 432.3h.01M123.2 433.4h.01M122.1 436.3h.01M123.6 433.2h.01M124.9 437.3h.01M118.7 423.9h.01M111.2 406.3h.01M120.4 429.3h.01M120.0 428.6h.01M121.9 425.4h.01M121.4 424.8h.01M121.2 436.8h.01M124.6 439.0h.01M122.3 435.6h.01M119.5 431.1h.01M117.6 416.2h.01M124.0 438.6h.01M119.3 438.2h.01M120.6 421.7h.01M123.5 437.4h.01M114.8 427.1h.01M123.4 430.9h.01M122.9 428.1h.01M118.4 421.9h.01M118.5 426.1h.01M119.0 432.0h.01M122.4 430.5h.01M124.0 435.1h.01M125.5 439.0h.01M121.8 425.6h.01M120.8 430.1h.01M121.9 429.1h.01M124.4 436.0h.01M123.7 437.4h.01M118.1 429.3h.01M120.7 435.8h.01M119.8 418.5h.01M117.0 413.3h.01M115.1 411.2h.01M124.4 435.7h.01M123.0 432.9h.01M122.7 438.9h.01M123.0 432.6h.01M122.3 427.5h.01M123.9 437.3h.01M124.6 436.8h.01M125.6 438.6h.01M123.6 435.4h.01M117.0 413.8h.01M123.8 434.6h.01M124.2 436.9h.01M118.5 411.9h.01M122.6 434.4h.01M121.1 426.9h.01M118.6 430.4h.01M120.1 419.3h.01M113.9 432.5h.01M123.8 432.8h.01M122.5 426.8h.01M124.2 437.8h.01M123.1 436.5h.01M122.3 428.1h.01M120.6 426.8h.01M122.0 428.7h.01M124.4 434.4h.01M119.2 433.7h.01M120.9 420.5h.01M125.1 438.6h.01M122.2 429.1h.01M124.6 438.0h.01M121.6 431.9h.01M122.9 434.8h.01M121.6 429.4h.01M123.8 438.8h.01M125.4 438.0h.01M124.4 433.7h.01M124.9 438.5h.01M124.2 433.8h.01M114.7 413.0h.01M122.8 433.5h.01M118.3 436.0h.01M124.9 438.1h.01M122.1 437.1h.01M123.3 433.1h.01M121.1 434.8h.01M122.6 436.7h.01M122.0 428.7h.01M123.9 435.3h.01M123.8 434.0h.01M122.7 430.8h.01M122.6 436.1h.01M123.4 434.0h.01M119.9 421.1h.01M121.0 435.2h.01M113.8 407.2h.01M122.8 434.8h.01M122.2 427.7h.01M117.5 428.2h.01M121.5 430.1h.01M122.8 434.3h.01M122.9 437.0h.01M117.4 432.6h.01M122.9 435.6h.01M124.9 439.0h.01M122.1 426.8h.01M123.3 431.1h.01M116.3 434.9h.01M121.5 437.3h.01M124.3 438.7h.01M118.5 424.5h.01M123.2 435.0h.01M120.4 428.6h.01M121.2 427.5h.01M123.2 436.7h.01M122.6 432.2h.01M115.9 402.1h.01M121.7 426.2h.01M117.4 428.1h.01M123.7 436.5h.01M123.0 432.8h.01M123.9 437.6h.01M118.6 420.1h.01M122.4 436.3h.01M124.3 434.5h.01M122.7 431.2h.01M116.1 432.8h.01M118.6 432.0h.01M122.5 435.5h.01M125.1 438.5h.01M121.1 429.1h.01M121.0 424.1h.01M124.4 436.5h.01M124.1 432.6h.01M123.0 435.2h.01M124.9 437.8h.01M115.8 421.6h.01M124.9 436.7h.01M125.4 438.1h.01M119.8 425.7h.01M124.0 436.6h.01M123.1 429.0h.01M118.2 424.6h.01M123.3 437.2h.01M122.4 428.9h.01M120.7 421.2h.01M123.8 433.7h.01M121.7 434.2h.01M122.3 432.0h.01M115.7 402.1h.01M123.7 437.0h.01M120.2 437.8h.01M123.9 435.6h.01M121.6 434.4h.01M118.0 418.1h.01M124.7 437.6h.01M122.7 428.7h.01M116.9 420.9h.01M124.5 437.0h.01M123.2 437.0h.01M123.9 438.8h.01M122.8 438.6h.01M122.6 432.5h.01M125.5 438.3h.01M118.0 435.5h.01M120.3 431.4h.01M125.5 438.6h.01M123.9 439.0h.01M124.9 437.5h.01M121.3 429.8h.01M123.9 435.9h.01M123.7 436.3h.01M124.1 435.4h.01M124.6 436.8h.01M125.1 436.6h.01M123.5 436.0h.01M124.9 436.5h.01M120.5 423.2h.01M123.6 433.1h.01M118.1 420.6h.01M121.8 430.9h.01M122.0 429.1h.01M123.8 434.6h.01M123.2 433.2h.01M122.8 432.8h.01M118.1 425.9h.01M125.2 437.0h.01M125.0 436.1h.01M120.5 425.6h.01M124.7 436.3h.01M117.7 421.9h.01M121.2 429.4h.01M121.7 427.5h.01M123.4 434.9h.01M111.4 421.1h.01M116.5 417.9h.01M125.2 438.5h.01M116.2 409.0h.01M123.6 433.0h.01M120.0 422.3h.01M115.5 399.6h.01M114.8 396.5h.01M124.7 437.8h.01M123.4 430.5h.01M119.1 432.1h.01M122.2 434.3h.01M122.3 431.5h.01M124.4 437.6h.01M118.4 419.5h.01M124.3 437.1h.01M123.4 432.5h.01M122.2 431.8h.01M125.4 439.0h.01M123.0 430.1h.01M123.4 438.5h.01M119.8 435.7h.01M123.8 432.2h.01M123.0 430.5h.01M119.6 424.8h.01M122.6 427.1h.01M123.3 438.9h.01M125.1 437.9h.01M125.5 438.9h.01M119.1 433.7h.01M124.5 435.9h.01M121.6 424.2h.01M121.9 430.6h.01M119.7 415.8h.01M123.2 432.1h.01M121.4 424.4h.01M122.7 428.5h.01M118.5 433.4h.01M124.7 436.9h.01M117.9 417.9h.01M125.3 438.6h.01M124.7 436.9h.01M119.3 423.3h.01M114.5 405.9h.01M122.8 430.8h.01M121.8 428.4h.01M124.6 438.7h.01M123.5 435.1h.01M125.6 438.8h.01M115.7 404.5h.01M124.7 435.8h.01M119.5 431.5h.01M124.3 437.5h.01M121.8 433.3h.01M123.5 432.1h.01M123.3 437.4h.01M122.5 438.5h.01M125.4 438.9h.01M121.3 433.8h.01M121.3 430.9h.01M120.3 427.0h.01M123.0 438.7h.01M125.2 437.8h.01M125.7 438.9h.01M120.2 421.3h.01M125.5 438.4h.01M119.9 423.2h.01M120.3 418.0h.01M125.0 438.2h.01M125.1 437.4h.01M123.7 437.3h.01M125.1 437.6h.01M123.3 432.6h.01M124.1 437.8h.01M123.4 433.1h.01M124.3 433.7h.01M123.3 431.0h.01M124.9 435.7h.01M119.2 420.5h.01M123.4 434.9h.01M119.3 415.2h.01M122.7 435.1h.01M122.8 435.2h.01M120.5 418.8h.01M124.5 436.3h.01M119.9 427.4h.01M118.5 428.9h.01M124.6 437.4h.01M118.7 422.8h.01M119.5 438.2h.01M119.1 427.7h.01M123.3 435.4h.01M113.6 412.0h.01M120.1 431.8h.01M117.7 430.1h.01M124.6 437.9h.01M123.7 432.1h.01M122.4 426.2h.01M123.0 430.7h.01M123.4 435.9h.01M124.4 437.4h.01M112.9 422.6h.01M124.4 436.6h.01M122.8 429.1h.01M121.2 423.0h.01M123.3 432.2h.01M125.8 439.2h.01M125.2 439.2h.01M117.5 436.4h.01M123.5 430.5h.01M122.6 428.4h.01M122.2 433.6h.01M116.1 422.6h.01M124.0 434.5h.01M124.1 434.9h.01M121.7 427.6h.01M123.0 429.3h.01M116.0 426.2h.01M123.8 437.3h.01M125.4 437.7h.01M124.3 434.6h.01M121.4 428.0h.01M117.1 429.6h.01M125.5 438.7h.01M124.8 438.9h.01M119.7 424.3h.01M120.7 432.4h.01M124.6 435.2h.01M123.5 430.4h.01M125.2 437.0h.01M125.3 437.7h.01M123.9 432.7h.01M120.7 431.3h.01M124.7 435.6h.01M121.0 429.7h.01M119.4 420.8h.01M120.4 431.7h.01M116.7 429.5h.01M122.7 436.3h.01M122.5 430.6h.01M124.8 439.1h.01M123.7 436.6h.01M123.0 433.1h.01M125.4 438.7h.01M121.7 431.2h.01M111.4 399.4h.01M124.1 436.3h.01M121.5 433.2h.01M120.5 434.9h.01M123.5 433.5h.01M123.6 433.6h.01M108.4 371.7h.01M124.5 434.8h.01M123.0 429.5h.01M124.6 437.8h.01M121.3 431.3h.01M123.9 434.2h.01M121.2 435.3h.01M125.3 437.1h.01M119.7 420.7h.01M125.3 438.0h.01M118.1 420.3h.01M123.9 438.6h.01M124.3 437.1h.01M123.7 431.3h.01M118.9 415.8h.01M123.1 437.9h.01M125.5 438.2h.01M122.4 430.2h.01M117.5 419.5h.01M125.2 437.2h.01M122.7 431.3h.01M121.0 436.1h.01M123.7 437.2h.01M121.7 438.5h.01M117.1 413.8h.01M122.9 435.9h.01M117.4 419.2h.01M124.6 438.8h.01M124.2 437.9h.01M114.7 413.6h.01M123.9 436.8h.01M124.7 435.9h.01M120.2 427.6h.01M124.0 435.7h.01M120.8 429.0h.01M124.2 433.9h.01M125.3 438.3h.01M120.6 424.2h.01M122.7 430.4h.01M124.5 435.3h.01M115.5 407.8h.01M123.6 438.0h.01M122.1 431.4h.01M120.8 426.7h.01M114.1 421.3h.01M122.9 434.7h.01M123.9 435.2h.01M123.1 435.3h.01M124.1 435.5h.01M118.5 423.2h.01M120.0 429.6h.01M123.0 435.0h.01M124.6 436.7h.01M123.1 438.3h.01M119.5 417.5h.01M124.6 435.1h.01M123.9 437.9h.01M120.8 420.2h.01M122.9 436.7h.01M121.9 437.0h.01M123.8 435.5h.01M124.8 437.3h.01M124.0 434.5h.01M122.9 428.0h.01M120.7 430.5h.01M124.6 435.8h.01M125.4 438.1h.01M120.6 425.8h.01M124.8 439.1h.01M123.1 431.4h.01M124.9 438.9h.01M119.0 435.5h.01M120.6 435.4h.01M119.6 421.9h.01M122.9 438.0h.01M124.3 438.4h.01M125.4 438.3h.01M124.4 434.7h.01M112.9 398.0h.01M114.3 419.8h.01M120.8 427.1h.01M121.9 433.7h.01M123.1 429.7h.01M123.2 432.7h.01M122.1 433.0h.01M121.7 429.2h.01M119.1 425.9h.01M125.3 438.4h.01M125.4 438.8h.01M118.0 411.9h.01M123.5 434.3h.01M123.4 432.1h.01M121.7 426.3h.01M118.5 423.2h.01M124.6 439.2h.01M122.2 438.4h.01M125.2 438.6h.01M120.9 426.7h.01M122.4 429.8h.01M123.8 432.9h.01M123.9 433.9h.01M123.1 429.6h.01M125.1 437.9h.01M122.6 432.7h.01M119.1 439.2h.01M120.9 423.8h.01M122.7 437.7h.01M117.1 407.0h.01M119.5 427.2h.01M119.2 415.6h.01M125.2 438.1h.01M121.6 436.9h.01M119.2 418.6h.01M124.8 438.0h.01M123.5 436.8h.01M120.3 428.3h.01M123.5 434.3h.01M123.6 433.8h.01M122.5 434.0h.01M122.4 428.6h.01M123.7 432.1h.01M124.9 438.8h.01M124.8 435.4h.01M124.8 438.5h.01M115.5 414.8h.01M125.1 438.9h.01M124.2 435.3h.01M124.1 437.9h.01M120.9 423.6h.01M125.2 437.5h.01M123.5 439.1h.01M123.2 437.0h.01M122.2 425.8h.01M124.7 437.4h.01M120.1 426.7h.01M124.0 436.1h.01M123.8 435.4h.01M121.8 425.7h.01M117.3 425.0h.01M118.2 431.3h.01M119.3 415.5h.01M114.8 398.5h.01M122.0 425.3h.01M124.1 436.1h.01M119.5 423.6h.01M121.7 437.2h.01M120.0 422.1h.01M125.2 438.8h.01M124.2 436.2h.01M117.5 414.8h.01M121.9 424.6h.01M123.1 436.8h.01M124.5 435.6h.01M125.6 438.6h.01M123.3 434.7h.01M123.3 434.8h.01M125.0 436.3h.01M122.6 429.6h.01M123.5 433.4h.01M125.0 436.5h.01M124.5 436.2h.01M125.5 438.2h.01M124.3 433.6h.01M120.3 421.2h.01M123.3 434.2h.01M125.6 439.0h.01M120.9 426.1h.01M123.6 433.4h.01M121.4 427.3h.01M118.9 425.8h.01M118.2 420.0h.01M122.2 429.6h.01M122.6 432.7h.01M121.2 432.8h.01M121.4 422.5h.01M121.0 427.3h.01M119.6 431.4h.01M124.7 438.8h.01M119.9 435.2h.01M124.1 437.7h.01M123.3 437.9h.01M122.1 433.5h.01M121.5 436.1h.01M125.4 439.1h.01M119.0 427.9h.01M121.9 426.4h.01M123.7 438.5h.01M122.8 428.0h.01M118.2 415.9h.01M124.7 438.9h.01M124.7 435.7h.01M115.4 420.7h.01M124.6 438.1h.01M123.3 436.5h.01M124.9 438.2h.01M123.6 434.7h.01M123.0 434.3h.01M113.7 415.1h.01M116.9 418.9h.01M124.8 437.0h.01M122.7 433.9h.01M123.0 431.2h.01M114.3 398.2h.01M125.6 439.0h.01M123.2 437.2h.01M121.7 423.5h.01M124.8 436.9h.01M118.1 426.0h.01M125.0 436.6h.01M109.9 410.1h.01M121.9 428.4h.01M120.1 427.5h.01M123.7 433.1h.01M122.3 432.8h.01M123.3 435.8h.01M119.9 437.8h.01M124.9 437.2h.01M111.8 411.6h.01M116.1 417.1h.01M118.2 423.1h.01M123.8 432.1h.01M119.6 428.0h.01M121.7 423.7h.01M123.6 438.7h.01M120.5 433.5h.01M114.0 399.2h.01M121.4 429.6h.01M122.4 429.1h.01M123.4 430.5h.01M118.1 419.5h.01M121.1 425.3h.01M124.3 437.2h.01M121.9 429.5h.01M125.5 438.2h.01M124.2 434.9h.01M124.8 437.0h.01M122.7 434.6h.01M118.1 418.3h.01M122.7 439.0h.01M121.4 431.2h.01M122.9 431.1h.01M124.8 435.7h.01M123.3 429.9h.01M118.9 429.4h.01M121.7 429.8h.01M116.0 425.1h.01M113.2 424.9h.01M124.4 433.9h.01M121.9 431.1h.01M119.5 422.2h.01M124.8 435.3h.01M120.0 424.0h.01M114.3 403.2h.01M118.7 422.8h.01M113.9 399.1h.01M119.8 419.8h.01M125.2 439.1h.01M116.9 435.5h.01M124.2 434.9h.01M123.0 429.2h.01M124.2 436.1h.01M124.1 438.1h.01M121.9 434.5h.01M118.7 435.7h.01M124.1 437.3h.01M125.2 437.0h.01M121.4 436.1h.01M124.0 436.3h.01M123.6 432.9h.01M124.0 432.7h.01M124.3 435.5h.01M119.3 424.8h.01M121.5 428.9h.01M118.7 422.0h.01M125.5 438.7h.01M119.4 427.4h.01M111.9 400.4h.01M124.1 437.7h.01M122.0 430.8h.01M120.1 438.0h.01M123.7 433.1h.01M115.9 405.4h.01M123.9 438.6h.01M124.7 436.6h.01M123.5 436.1h.01M123.2 435.9h.01M110.8 419.1h.01M115.7 420.4h.01M122.4 436.7h.01M124.2 438.4h.01M125.5 438.5h.01M119.0 413.8h.01M121.7 428.4h.01M123.4 439.2h.01M122.3 438.7h.01M120.7 424.6h.01M124.5 434.1h.01M123.1 428.9h.01M119.7 432.8h.01M123.1 429.5h.01M120.8 428.3h.01M122.5 435.8h.01M123.0 431.8h.01M123.6 432.8h.01M121.5 436.3h.01M122.4 435.5h.01M124.4 435.3h.01M120.7 439.2h.01M115.3 427.3h.01M123.7 431.6h.01M125.3 437.7h.01M122.0 431.1h.01M118.2 412.6h.01M124.8 436.9h.01M125.4 437.8h.01M123.4 433.4h.01M119.8 435.3h.01M122.1 436.0h.01M123.9 432.7h.01M124.3 438.9h.01M121.2 421.5h.01M122.7 428.9h.01M120.0 429.3h.01M122.4 428.1h.01M120.1 437.7h.01M114.9 418.1h.01M124.0 432.5h.01M120.8 435.3h.01M125.1 438.6h.01M122.4 438.8h.01M124.7 435.5h.01M124.5 435.4h.01M123.0 434.3h.01M123.3 430.0h.01M124.0 432.7h.01M121.8 434.2h.01M122.4 436.6h.01M124.4 436.8h.01M122.4 425.8h.01M122.7 432.3h.01M117.6 428.5h.01M122.7 429.1h.01M124.3 437.3h.01M123.8 436.4h.01M123.8 438.4h.01M124.5 434.6h.01M121.3 438.1h.01M117.4 423.0h.01M117.9 435.0h.01M123.4 437.6h.01M119.1 414.9h.01M125.6 439.2h.01M123.1 438.4h.01M122.6 431.2h.01M123.9 438.2h.01M125.2 437.9h.01M122.0 431.5h.01M118.9 425.4h.01M124.9 437.9h.01M124.4 437.9h.01M122.6 438.9h.01M120.3 429.4h.01M120.2 433.5h.01M118.4 423.8h.01M121.7 425.2h.01M124.8 435.6h.01M121.4 426.9h.01M115.5 402.5h.01M121.2 434.4h.01M114.9 409.6h.01M115.8 420.9h.01M123.6 436.5h.01M123.9 438.6h.01M117.5 413.2h.01M124.1 437.8h.01M124.7 438.6h.01M124.8 438.5h.01M119.5 424.7h.01M120.4 422.8h.01M124.4 434.2h.01M120.8 425.9h.01M124.4 434.7h.01M124.3 434.0h.01M125.4 438.1h.01M124.3 434.5h.01M120.1 424.2h.01M119.8 422.0h.01M124.9 437.7h.01M120.1 423.6h.01M121.7 430.3h.01M125.3 438.8h.01M121.5 434.4h.01M117.5 414.7h.01M125.1 436.6h.01M123.1 432.2h.01M119.5 416.4h.01M125.3 437.2h.01M123.2 438.9h.01M121.0 421.7h.01M124.4 439.1h.01M123.7 436.8h.01M117.6 418.5h.01M123.6 436.4h.01M122.8 436.3h.01M121.9 436.6h.01M119.3 429.5h.01M119.8 435.6h.01M123.4 431.7h.01M122.9 430.3h.01M125.5 438.2h.01M123.2 431.1h.01M123.2 438.3h.01M123.3 437.9h.01M124.4 436.5h.01M116.0 416.2h.01M114.1 423.8h.01M119.0 431.3h.01M122.1 430.9h.01M124.2 435.9h.01M123.5 432.0h.01M120.0 430.4h.01M122.5 428.3h.01M125.0 439.0h.01M121.4 434.3h.01M122.8 432.4h.01M122.3 431.2h.01M121.8 429.5h.01M123.6 432.3h.01M124.6 438.1h.01M115.0 420.6h.01M123.7 436.2h.01M123.2 433.0h.01M122.9 437.5h.01M125.2 438.4h.01M124.7 436.4h.01M125.2 437.4h.01M123.9 432.9h.01M121.9 430.4h.01M122.5 430.8h.01M123.1 431.1h.01M122.5 433.9h.01M123.2 437.1h.01M117.5 431.7h.01M122.3 431.0h.01M122.0 426.7h.01M123.8 435.2h.01M120.5 427.9h.01M120.5 437.4h.01M115.3 404.9h.01M111.2 393.1h.01M124.6 435.0h.01M124.4 439.0h.01M121.3 428.4h.01M121.4 426.2h.01M121.1 427.6h.01M122.2 430.6h.01M121.9 429.8h.01M123.8 438.4h.01M122.1 428.8h.01M116.6 409.3h.01M124.3 437.6h.01M124.5 435.4h.01M120.6 420.5h.01M122.7 428.6h.01M157.0 418.3h.01M149.9 431.1h.01M148.0 437.5h.01M149.9 435.4h.01M156.9 409.5h.01M151.7 436.5h.01M156.3 410.2h.01M149.5 435.5h.01M147.2 438.5h.01M150.1 430.8h.01M152.6 436.4h.01M151.8 432.3h.01M155.9 428.1h.01M150.9 438.0h.01M147.2 438.9h.01M148.0 436.1h.01M148.0 437.5h.01M160.2 421.7h.01M151.8 431.9h.01M155.2 424.8h.01M148.7 438.4h.01M149.3 436.8h.01M159.1 399.6h.01M150.8 435.1h.01M151.4 428.0h.01M150.6 434.0h.01M154.3 411.5h.01M158.3 416.1h.01M157.1 413.3h.01M149.7 428.2h.01M150.7 436.6h.01M150.3 435.0h.01M166.2 396.7h.01M153.7 427.7h.01M161.0 436.2h.01M148.2 434.2h.01M150.2 433.4h.01M149.1 436.8h.01M154.8 438.4h.01M150.1 431.5h.01M152.6 430.9h.01M154.0 434.0h.01M158.0 432.9h.01M157.0 424.0h.01M150.9 437.3h.01M147.8 438.7h.01M149.7 439.2h.01M160.4 416.5h.01M153.4 427.8h.01M154.3 425.5h.01M152.0 422.4h.01M152.3 432.6h.01M149.3 438.5h.01M154.1 413.4h.01M156.8 425.4h.01M153.6 428.6h.01M150.7 432.5h.01M151.1 429.6h.01M155.6 422.5h.01M151.0 433.2h.01M159.1 426.3h.01M158.5 421.6h.01M147.6 436.3h.01M147.4 437.9h.01M149.0 431.8h.01M153.9 432.5h.01M156.0 433.1h.01M150.3 434.5h.01M148.1 436.0h.01M149.7 430.2h.01M148.2 437.5h.01M148.3 436.6h.01M164.2 402.7h.01M151.0 427.9h.01M155.7 439.2h.01M150.8 428.3h.01M149.9 432.5h.01M153.6 423.6h.01M153.1 438.3h.01M148.5 435.0h.01M150.7 426.6h.01M151.9 429.5h.01M155.9 437.8h.01M150.2 426.9h.01M160.2 415.2h.01M160.1 421.1h.01M148.4 437.2h.01M152.2 437.2h.01M161.7 408.5h.01M151.1 431.5h.01M161.4 435.8h.01M147.8 437.8h.01M152.1 419.3h.01M149.7 436.9h.01M149.0 436.4h.01M149.8 438.9h.01M148.0 438.4h.01M150.4 438.1h.01M149.9 436.6h.01M149.1 438.8h.01M156.0 434.8h.01M148.4 436.9h.01M152.6 418.0h.01M151.2 432.2h.01M148.3 435.6h.01M148.8 432.0h.01M147.7 439.1h.01M149.1 434.2h.01M152.8 426.3h.01M153.2 429.4h.01M163.5 426.2h.01M153.9 430.6h.01M149.3 430.7h.01M156.1 420.4h.01M150.5 438.8h.01M160.2 431.9h.01M150.6 433.6h.01M153.9 423.8h.01M153.2 433.3h.01M157.1 415.4h.01M154.1 426.5h.01M149.9 430.8h.01M148.6 435.7h.01M158.1 396.0h.01M148.2 436.6h.01M157.8 421.5h.01M148.2 435.3h.01M156.3 427.5h.01M155.3 428.5h.01M149.4 429.7h.01M162.6 422.6h.01M148.7 437.3h.01M162.1 421.5h.01M153.3 437.4h.01M152.7 421.1h.01M165.5 413.8h.01M147.6 438.2h.01M152.3 422.1h.01M153.3 434.7h.01M154.6 420.7h.01M152.5 433.6h.01M148.9 434.7h.01M150.2 437.0h.01M151.5 425.9h.01M155.3 425.0h.01M152.2 430.3h.01M148.3 433.7h.01M153.3 431.1h.01M150.4 428.3h.01M155.4 418.8h.01M147.2 438.2h.01M150.0 438.7h.01M152.4 432.1h.01M150.9 435.1h.01M147.7 438.2h.01M151.7 425.4h.01M150.1 437.9h.01M160.8 416.9h.01M147.3 439.1h.01M152.4 430.1h.01M151.8 420.3h.01M149.8 428.9h.01M151.1 424.5h.01M154.3 432.2h.01M152.8 423.3h.01M153.1 428.6h.01M152.2 432.1h.01M150.1 433.1h.01M156.2 424.2h.01M151.8 422.4h.01M151.4 431.9h.01M164.4 422.9h.01M147.4 436.9h.01M151.0 434.9h.01M149.8 434.1h.01M154.8 428.6h.01M156.2 415.1h.01M151.0 432.1h.01M166.0 394.6h.01M150.8 438.9h.01M149.1 438.0h.01M149.8 428.8h.01M154.1 430.2h.01M150.6 434.7h.01M148.7 433.9h.01M156.5 436.1h.01M153.0 428.6h.01M161.5 422.1h.01M153.3 424.5h.01M150.5 431.1h.01M154.0 438.5h.01M148.3 438.3h.01M154.2 419.3h.01M153.4 413.9h.01M149.0 437.5h.01M156.6 428.7h.01M164.7 415.5h.01M161.7 437.1h.01M148.6 438.7h.01M148.0 434.7h.01M162.8 436.8h.01M160.1 402.6h.01M150.6 425.2h.01M150.3 429.6h.01M151.7 435.8h.01M148.7 436.8h.01M147.8 439.1h.01M148.2 435.4h.01M148.5 438.1h.01M154.6 438.3h.01M149.1 436.1h.01M151.5 438.5h.01M147.6 437.0h.01M156.5 434.4h.01M158.1 413.1h.01M149.4 430.1h.01M162.9 414.8h.01M153.3 436.2h.01M149.2 437.4h.01M150.4 435.7h.01M150.0 436.2h.01M147.6 436.1h.01M151.5 437.9h.01M151.1 433.0h.01M151.1 427.9h.01M148.9 437.0h.01M157.4 424.7h.01M152.0 432.8h.01M156.9 436.1h.01M156.9 428.5h.01M151.0 434.4h.01M153.9 426.3h.01M152.3 424.3h.01M153.0 423.2h.01M149.4 431.6h.01M156.0 433.8h.01M147.4 438.9h.01M153.3 431.0h.01M155.5 427.1h.01M154.8 425.9h.01M149.5 437.5h.01M147.7 435.8h.01M163.2 431.8h.01M153.9 432.6h.01M149.6 429.0h.01M151.3 428.1h.01M160.9 414.6h.01M151.8 430.1h.01M150.4 431.3h.01M152.8 419.2h.01M163.6 391.8h.01M151.8 433.1h.01M150.9 435.3h.01M152.5 438.6h.01M152.9 438.0h.01M161.8 418.8h.01M151.6 424.7h.01M149.3 430.4h.01M158.5 424.9h.01M149.2 436.7h.01M150.1 438.2h.01M150.3 426.7h.01M158.6 429.3h.01M154.4 437.1h.01M147.7 435.9h.01M150.9 438.3h.01M153.3 437.0h.01M148.7 433.2h.01M153.6 421.5h.01M147.2 437.7h.01M149.8 435.4h.01M152.0 432.0h.01M147.0 438.3h.01M156.4 416.4h.01M161.6 425.8h.01M155.0 429.8h.01M148.2 436.6h.01M165.7 431.7h.01M158.7 402.2h.01M151.0 428.7h.01M149.1 434.5h.01M148.8 432.7h.01M152.4 419.5h.01M153.2 420.8h.01M147.7 436.4h.01M158.7 434.6h.01M149.4 434.5h.01M151.8 425.0h.01M152.2 418.9h.01M159.4 423.3h.01M155.9 422.7h.01M150.3 438.0h.01M152.0 430.1h.01M151.8 424.0h.01M151.6 434.3h.01M154.7 416.5h.01M151.0 433.5h.01M148.8 432.8h.01M157.3 434.4h.01M155.5 434.3h.01M157.7 416.0h.01M149.2 439.1h.01M158.2 407.1h.01M148.6 434.5h.01M158.0 416.9h.01M153.1 429.8h.01M157.9 415.4h.01M151.4 430.9h.01M159.6 434.9h.01M152.7 428.3h.01M149.9 438.2h.01M148.6 438.7h.01M149.0 436.7h.01M148.3 436.6h.01M148.8 433.2h.01M151.6 436.2h.01M152.3 438.1h.01M149.1 433.7h.01M153.3 423.7h.01M148.0 434.4h.01M155.6 437.1h.01M150.8 432.1h.01M149.6 429.9h.01M153.0 437.5h.01M151.2 428.8h.01M154.3 418.5h.01M154.1 433.0h.01M154.0 419.3h.01M160.0 397.2h.01M149.9 436.0h.01M152.2 430.6h.01M154.2 432.6h.01M149.4 436.2h.01M160.3 427.4h.01M149.0 436.1h.01M149.7 432.6h.01M159.9 431.7h.01M153.0 436.4h.01M157.2 416.3h.01M148.4 434.7h.01M156.6 430.9h.01M149.1 434.2h.01M152.5 420.8h.01M155.1 430.5h.01M150.1 431.7h.01M151.0 429.7h.01M157.2 427.7h.01M159.6 422.3h.01M148.1 437.8h.01M154.5 427.7h.01M156.8 415.9h.01M147.2 438.5h.01M149.0 438.7h.01M148.0 435.1h.01M153.7 414.2h.01M153.0 434.7h.01M151.1 427.2h.01M160.8 405.0h.01M154.7 421.1h.01M163.9 428.3h.01M149.2 438.6h.01M163.9 429.9h.01M150.6 429.6h.01M149.5 437.6h.01M148.6 437.3h.01M157.1 405.9h.01M150.8 436.8h.01M158.1 431.9h.01M152.6 435.1h.01M155.1 413.0h.01M150.3 434.3h.01M151.9 432.6h.01M150.7 426.9h.01M157.6 428.3h.01M149.4 433.7h.01M150.5 436.2h.01M147.8 437.9h.01M151.6 435.5h.01M154.5 425.0h.01M148.5 437.5h.01M162.4 438.5h.01M155.3 432.8h.01M148.6 436.2h.01M148.6 437.6h.01M153.7 427.1h.01M148.3 435.1h.01M152.4 435.9h.01M161.5 437.2h.01M152.8 420.2h.01M151.3 439.2h.01M149.9 438.7h.01M150.8 431.9h.01M149.2 430.1h.01M160.1 424.7h.01M147.8 438.8h.01M153.0 420.1h.01M151.9 437.6h.01M147.8 436.9h.01M147.2 439.1h.01M158.7 435.0h.01M151.6 424.5h.01M151.0 433.9h.01M147.4 437.4h.01M148.4 437.0h.01M156.7 438.8h.01M162.6 401.3h.01M151.3 433.3h.01M154.8 420.4h.01M150.4 435.8h.01M158.2 406.6h.01M150.2 427.6h.01M151.9 433.9h.01M158.1 436.8h.01M151.1 433.9h.01M152.9 423.5h.01M156.5 426.6h.01M152.9 423.6h.01M150.9 434.9h.01M150.8 433.0h.01M155.0 430.5h.01M147.9 437.6h.01M149.2 437.8h.01M155.5 436.8h.01M149.2 436.8h.01M152.5 424.0h.01M147.8 438.3h.01M152.2 426.5h.01M155.9 408.9h.01M150.0 435.4h.01M149.1 434.9h.01M149.1 438.1h.01M152.9 424.8h.01M149.6 434.5h.01M148.0 435.8h.01M151.4 432.5h.01M151.5 422.6h.01M153.2 438.9h.01M152.4 434.5h.01M154.6 417.3h.01M151.8 437.2h.01M150.1 435.4h.01M149.1 439.2h.01M149.2 433.1h.01M155.2 437.0h.01M155.5 415.3h.01M149.2 435.2h.01M149.6 434.8h.01M155.5 405.6h.01M150.8 434.5h.01M151.1 429.3h.01M153.0 425.9h.01M154.3 437.5h.01M151.1 436.8h.01M155.3 411.5h.01M158.5 424.5h.01M156.4 434.8h.01M149.3 437.6h.01M164.5 399.0h.01M155.8 417.4h.01M152.6 428.3h.01M156.7 426.3h.01M157.3 426.0h.01M150.7 436.7h.01M158.7 422.7h.01M149.7 437.1h.01M156.1 439.0h.01M150.9 428.3h.01M150.9 429.6h.01M155.4 430.7h.01M153.3 428.0h.01M149.4 431.6h.01M152.7 438.8h.01M150.3 437.0h.01M148.6 436.9h.01M165.9 422.9h.01M150.8 439.1h.01M156.1 426.3h.01M148.5 437.5h.01M151.6 424.9h.01M149.2 437.2h.01M148.2 437.2h.01M148.0 437.4h.01M148.6 438.1h.01M148.4 434.9h.01M148.9 437.1h.01M148.0 438.4h.01M150.5 438.7h.01M149.0 437.8h.01M150.5 437.7h.01M147.6 438.3h.01M153.6 437.3h.01M151.0 438.3h.01M160.4 423.8h.01M150.3 433.4h.01M151.6 434.7h.01M153.3 432.3h.01M155.2 433.2h.01M150.6 429.7h.01M149.2 433.5h.01M153.8 413.3h.01M150.2 433.8h.01M149.8 429.5h.01M150.5 427.6h.01M148.9 435.8h.01M165.5 438.4h.01M153.3 438.5h.01M162.7 427.1h.01M152.6 429.8h.01M151.3 433.0h.01M148.5 435.0h.01M155.9 430.0h.01M150.3 429.5h.01M149.7 430.7h.01M161.0 418.7h.01M149.4 434.3h.01M156.6 416.2h.01M150.1 438.3h.01M148.7 433.5h.01M153.5 419.0h.01M149.6 437.0h.01M148.8 436.2h.01M158.3 432.9h.01M151.6 429.9h.01M153.6 413.2h.01M159.7 422.1h.01M156.6 426.2h.01M150.8 428.0h.01M166.1 411.3h.01M149.9 436.3h.01M148.2 437.0h.01M150.1 428.9h.01M149.3 439.1h.01M159.9 429.2h.01M147.9 438.9h.01M154.1 437.9h.01M152.1 422.1h.01M153.0 432.5h.01M152.3 429.1h.01M149.8 431.1h.01M147.4 438.5h.01M149.3 431.8h.01M154.9 416.7h.01M149.6 439.1h.01M156.1 427.8h.01M157.6 433.0h.01M162.7 427.4h.01M152.8 422.7h.01M149.2 433.3h.01M151.7 428.8h.01M150.2 432.7h.01M150.0 437.2h.01M152.4 425.7h.01M149.9 437.8h.01M153.0 429.0h.01M155.5 424.2h.01M160.8 410.0h.01M149.7 431.6h.01M149.4 435.1h.01M148.7 436.0h.01M147.7 437.1h.01M151.3 430.7h.01M158.5 422.2h.01M150.1 438.0h.01M154.4 412.0h.01M147.3 437.6h.01M156.0 437.1h.01M153.5 417.1h.01M147.1 439.1h.01M154.7 418.3h.01M150.9 430.4h.01M151.9 433.5h.01M154.9 409.7h.01M152.8 433.5h.01M156.4 423.1h.01M147.8 435.8h.01M150.0 436.5h.01M158.9 415.7h.01M151.3 429.7h.01M152.5 432.5h.01M150.0 431.3h.01M153.7 414.4h.01M157.6 433.5h.01M151.2 430.3h.01M148.8 436.8h.01M156.5 424.8h.01M162.7 429.1h.01M149.2 434.4h.01M161.2 429.1h.01M159.7 426.4h.01M151.6 420.8h.01M150.8 428.6h.01M157.3 427.3h.01M152.4 422.1h.01M148.6 434.3h.01M158.8 420.8h.01M152.3 430.7h.01M153.5 425.3h.01M156.5 437.1h.01M154.5 423.7h.01M150.0 430.6h.01M147.7 436.4h.01M157.6 427.8h.01M148.3 436.0h.01M149.5 433.3h.01M152.1 424.4h.01M149.3 436.1h.01M159.9 418.7h.01M147.6 437.9h.01M149.9 438.6h.01M150.5 428.1h.01M153.9 435.7h.01M150.5 438.7h.01M157.8 420.8h.01M152.3 435.2h.01M159.7 412.6h.01M153.5 429.0h.01M152.9 427.8h.01M149.1 437.8h.01M152.4 433.4h.01M149.6 432.3h.01M151.6 436.9h.01M155.2 430.4h.01M149.2 437.0h.01M147.7 437.9h.01M149.0 434.7h.01M155.9 407.2h.01M149.1 431.7h.01M153.3 416.6h.01M154.4 418.9h.01M148.3 434.6h.01M149.8 428.9h.01M153.3 427.7h.01M151.0 435.8h.01M150.4 426.3h.01M165.6 422.5h.01M148.4 434.8h.01M157.5 433.3h.01M150.4 427.3h.01M159.2 424.7h.01M152.4 432.8h.01M155.9 417.8h.01M155.7 423.0h.01M161.3 423.1h.01M147.8 437.5h.01M151.0 430.0h.01M147.7 435.5h.01M149.1 433.7h.01M151.2 434.3h.01M147.4 438.9h.01M150.6 431.4h.01M150.6 426.8h.01M153.6 438.5h.01M155.9 424.7h.01M150.2 429.6h.01M148.9 437.5h.01M152.9 427.2h.01M149.0 432.0h.01M157.0 408.3h.01M153.9 434.1h.01M158.4 408.6h.01M155.2 432.9h.01M149.1 432.2h.01M148.7 436.6h.01M147.0 439.2h.01M165.1 415.8h.01M153.7 420.8h.01M157.5 434.7h.01M148.5 438.6h.01M152.7 434.5h.01M164.3 403.8h.01M160.2 413.1h.01M149.6 436.8h.01M155.3 435.9h.01M151.7 422.3h.01M154.3 428.3h.01M151.6 423.8h.01M149.6 430.1h.01M149.9 433.4h.01M149.8 434.6h.01M149.2 431.7h.01M149.1 431.4h.01M150.2 426.6h.01M148.6 432.3h.01M166.6 423.3h.01M153.6 424.9h.01M153.8 432.7h.01M148.2 438.4h.01M149.3 432.4h.01M150.1 432.8h.01M149.8 437.6h.01M148.8 433.2h.01M149.9 431.2h.01M150.7 430.4h.01M154.8 426.0h.01M147.9 439.2h.01M152.8 424.4h.01M161.4 423.8h.01M164.3 412.1h.01M150.7 433.4h.01M148.0 438.3h.01M152.7 436.0h.01M156.4 423.2h.01M153.7 424.2h.01M151.5 428.5h.01M148.8 439.0h.01M156.9 417.3h.01M156.5 414.9h.01M148.1 436.1h.01M149.7 433.3h.01M148.2 438.0h.01M149.2 433.5h.01M150.2 432.0h.01M150.8 429.1h.01M155.9 429.0h.01M148.5 435.8h.01M152.6 430.5h.01M163.7 416.9h.01M151.0 432.7h.01M155.7 423.0h.01M148.5 437.9h.01M150.3 437.9h.01M156.4 423.4h.01M148.4 438.6h.01M149.9 439.0h.01M151.7 424.6h.01M150.4 426.1h.01M154.8 437.6h.01M150.7 436.6h.01M165.4 410.8h.01M150.5 432.8h.01M148.8 433.8h.01M155.0 423.2h.01M154.1 424.1h.01M148.5 436.4h.01M150.7 437.9h.01M150.6 431.9h.01M161.1 400.4h.01M148.8 434.6h.01M148.6 435.8h.01M150.9 431.7h.01M155.4 432.6h.01M151.2 434.7h.01M160.4 431.7h.01M160.8 429.7h.01M148.7 434.5h.01M152.6 436.8h.01M148.1 437.9h.01M152.2 419.5h.01M152.5 426.5h.01M156.4 436.6h.01M153.6 418.7h.01M149.5 437.7h.01M155.0 438.4h.01M149.1 435.1h.01M148.8 438.6h.01M149.6 430.6h.01M153.6 426.6h.01M166.2 421.3h.01M156.0 417.8h.01M151.4 434.7h.01M150.4 433.7h.01M148.1 436.2h.01M149.9 438.1h.01M148.4 436.0h.01M147.4 438.3h.01M153.9 421.3h.01M148.8 434.4h.01M151.1 426.6h.01M155.2 407.2h.01M157.8 411.9h.01M151.0 433.1h.01M155.2 436.4h.01M151.9 431.6h.01M159.3 417.7h.01M152.4 420.2h.01M148.5 435.5h.01M149.9 431.7h.01M154.5 415.4h.01M150.0 434.1h.01M151.9 435.2h.01M154.8 432.1h.01M154.2 434.7h.01M154.7 420.4h.01M150.0 436.5h.01M154.0 417.8h.01M154.5 418.1h.01M154.2 421.3h.01M148.1 434.2h.01M153.1 429.1h.01M155.8 435.5h.01M151.0 433.5h.01M151.5 436.5h.01M149.5 431.2h.01M156.9 409.9h.01M150.9 437.7h.01M154.2 433.5h.01M151.2 433.4h.01M160.6 425.9h.01M147.6 437.3h.01M149.2 432.4h.01M153.4 422.7h.01M148.3 434.6h.01M149.1 435.9h.01M148.4 436.0h.01M151.8 435.7h.01M149.2 437.8h.01M149.7 428.3h.01M159.7 421.4h.01M147.7 436.3h.01M152.7 438.4h.01M149.4 438.7h.01M153.8 430.0h.01M150.6 433.0h.01M153.8 432.7h.01M148.0 438.1h.01M150.7 432.1h.01M151.5 429.3h.01M158.2 403.3h.01M153.7 412.7h.01M151.9 421.7h.01M149.5 435.6h.01M154.2 414.1h.01M154.9 431.8h.01M153.6 432.2h.01M148.8 436.2h.01M154.6 430.9h.01M156.0 423.4h.01M160.3 426.2h.01M152.2 422.4h.01M149.1 436.5h.01M159.1 404.4h.01M153.3 421.7h.01M160.3 426.4h.01M150.0 429.7h.01M153.4 419.3h.01M152.8 437.8h.01M151.3 431.5h.01M155.1 437.0h.01M159.5 427.1h.01M150.4 434.0h.01M149.1 431.7h.01M149.2 439.0h.01M154.3 434.6h.01M156.6 424.2h.01M150.3 430.3h.01M153.8 430.1h.01M149.6 436.1h.01M150.1 438.4h.01M149.2 433.3h.01M158.1 426.3h.01M147.5 436.6h.01M162.1 430.0h.01M151.5 438.2h.01M154.6 429.5h.01M148.2 439.1h.01M154.8 438.7h.01M155.6 429.8h.01M159.1 437.7h.01M150.1 434.1h.01M147.1 439.1h.01M155.4 412.0h.01M153.8 431.9h.01M153.3 425.5h.01M158.7 426.9h.01M148.9 436.8h.01M154.1 430.2h.01M149.2 430.4h.01M148.9 436.3h.01M158.3 418.2h.01M150.3 435.9h.01M158.9 435.5h.01M160.3 426.8h.01M148.6 434.0h.01M152.1 423.0h.01M161.0 419.2h.01M157.6 418.4h.01M149.7 428.4h.01M148.1 435.8h.01M149.0 438.5h.01M148.8 438.5h.01M147.9 437.4h.01M153.8 428.8h.01M149.0 437.1h.01M153.2 416.1h.01M149.1 434.2h.01M148.0 436.6h.01M152.4 425.4h.01M162.2 395.0h.01M152.3 426.4h.01M151.1 423.8h.01M160.8 396.2h.01M152.4 425.1h.01M148.9 439.0h.01M151.5 437.8h.01M147.6 436.7h.01M152.5 431.1h.01M155.2 428.5h.01M153.3 438.7h.01M159.1 422.0h.01M147.7 439.1h.01M153.9 436.8h.01M149.3 435.9h.01M151.4 436.7h.01M148.9 437.8h.01M152.9 424.6h.01M149.7 436.5h.01M151.3 437.0h.01M152.8 421.7h.01M148.2 438.7h.01M151.8 439.1h.01M162.6 407.2h.01M152.3 431.5h.01M150.7 434.5h.01M157.7 429.2h.01M148.3 435.5h.01M148.6 433.1h.01M150.2 435.3h.01M157.5 419.0h.01M148.5 435.0h.01M156.6 426.7h.01M154.4 433.7h.01M157.4 428.4h.01M151.6 439.2h.01M154.2 417.2h.01M153.6 420.1h.01M163.0 419.4h.01M152.1 420.7h.01M149.8 436.9h.01M149.0 436.3h.01M147.8 437.3h.01M155.4 423.4h.01M155.2 439.1h.01M147.6 437.1h.01M164.3 416.6h.01M149.5 438.1h.01M166.3 414.3h.01M158.2 410.4h.01M159.7 426.3h.01M156.7 421.3h.01M160.3 420.1h.01M153.7 417.6h.01M150.2 434.9h.01M147.7 439.2h.01M151.4 432.2h.01M149.3 438.0h.01M156.9 411.1h.01M157.5 428.1h.01M150.6 432.9h.01M151.1 426.1h.01M148.8 434.9h.01M147.7 438.5h.01M159.8 420.6h.01M148.6 433.8h.01M150.1 431.7h.01M158.2 428.8h.01M149.4 434.5h.01M163.1 420.9h.01M151.9 426.9h.01M154.3 412.0h.01M147.5 438.5h.01M166.4 422.6h.01M149.8 438.1h.01M159.0 418.9h.01M147.6 437.2h.01M154.7 415.9h.01M153.2 434.1h.01M149.6 436.7h.01M150.0 437.8h.01M148.8 437.6h.01M156.9 438.9h.01M151.2 429.2h.01M152.2 436.5h.01M151.9 432.2h.01M148.1 438.7h.01M155.4 432.6h.01M147.6 436.8h.01M149.9 431.1h.01M147.2 438.8h.01M150.7 432.4h.01M151.5 436.0h.01M147.9 438.7h.01M149.7 432.1h.01M159.6 403.8h.01M159.7 432.8h.01M149.8 431.5h.01M166.6 432.4h.01M153.8 420.6h.01M154.1 438.4h.01M148.0 435.5h.01M153.5 433.5h.01M153.7 434.3h.01M163.0 410.2h.01M158.4 416.9h.01M150.2 438.3h.01M152.8 436.1h.01M157.2 415.4h.01M150.3 426.5h.01M153.6 430.3h.01M154.0 413.0h.01M151.7 436.9h.01M152.0 429.3h.01M157.0 402.1h.01M153.0 417.9h.01M150.9 436.3h.01M150.9 438.6h.01M153.0 435.3h.01M150.5 429.6h.01M165.0 422.9h.01M151.5 422.9h.01M148.6 433.1h.01M149.6 433.0h.01M157.0 431.3h.01M158.7 424.9h.01M148.8 438.6h.01M152.9 433.6h.01M152.7 416.5h.01M154.7 418.5h.01M149.5 438.8h.01M162.0 431.2h.01M154.8 422.2h.01M163.0 423.4h.01M150.3 431.6h.01M158.4 428.1h.01M154.9 426.2h.01M151.1 437.3h.01M154.8 429.7h.01M148.6 432.8h.01M150.4 436.1h.01M148.4 437.4h.01M148.8 433.7h.01M149.6 435.7h.01M162.5 413.7h.01M148.5 438.1h.01M151.2 421.9h.01M156.4 426.3h.01M147.6 436.2h.01M149.1 435.3h.01M150.1 427.8h.01M151.1 437.3h.01M149.3 438.8h.01M149.5 434.3h.01M149.7 433.7h.01M164.9 422.7h.01M153.9 430.4h.01M152.5 419.8h.01M148.6 432.6h.01M162.4 424.5h.01M148.8 437.7h.01M152.8 429.1h.01M148.4 438.6h.01M151.0 434.9h.01M153.3 415.9h.01M151.4 431.1h.01M148.9 434.1h.01M148.9 432.9h.01M151.5 427.5h.01M154.1 417.7h.01M148.1 436.7h.01M159.6 425.6h.01M156.9 418.0h.01M151.5 428.6h.01M149.3 431.2h.01M155.9 417.7h.01M149.0 432.4h.01M149.6 431.7h.01M158.6 396.2h.01M148.3 434.6h.01M149.5 436.8h.01M149.7 438.5h.01M155.6 429.6h.01M151.3 434.8h.01M151.8 434.9h.01M160.7 393.4h.01M157.5 427.3h.01M147.7 436.2h.01M151.6 431.7h.01M155.6 429.3h.01M153.4 435.0h.01M151.5 426.2h.01M149.4 436.4h.01M165.2 418.8h.01M151.9 431.3h.01M154.0 432.1h.01M150.1 439.0h.01M152.0 431.6h.01M152.7 419.1h.01M160.7 431.7h.01M150.6 436.3h.01M152.4 435.8h.01M150.2 428.6h.01M148.4 437.6h.01M154.3 433.1h.01M160.9 409.3h.01M148.8 438.2h.01M155.2 409.1h.01M149.5 433.1h.01M150.7 428.3h.01M147.5 438.7h.01M151.0 431.4h.01M153.2 419.8h.01M161.6 428.2h.01M148.7 438.9h.01M148.9 436.8h.01M152.1 436.1h.01M160.5 436.1h.01M148.5 436.8h.01M150.1 428.6h.01M148.5 437.2h.01M157.8 427.8h.01M150.6 429.9h.01M165.9 430.5h.01M148.5 434.4h.01M148.5 438.8h.01M151.3 426.8h.01M148.9 434.3h.01M153.8 433.2h.01M148.8 438.9h.01M150.4 436.7h.01M159.0 422.9h.01M155.7 434.7h.01M147.8 439.0h.01M150.6 437.5h.01M152.1 432.3h.01M147.3 438.6h.01M156.0 424.8h.01M157.8 412.8h.01M151.7 429.7h.01M154.7 417.3h.01M154.6 432.1h.01M150.0 434.3h.01M156.2 438.1h.01M151.2 431.9h.01M148.8 437.3h.01M148.7 434.7h.01M149.5 434.5h.01M149.9 428.5h.01M148.4 439.1h.01M150.6 425.4h.01M148.1 438.4h.01M159.1 403.2h.01M158.7 425.3h.01M148.5 439.2h.01M153.7 435.0h.01M150.1 438.3h.01M149.3 438.9h.01M158.5 432.5h.01M152.3 426.7h.01M151.6 429.9h.01M150.4 428.0h.01M152.1 430.8h.01M155.6 415.5h.01M152.4 433.9h.01M152.3 429.5h.01M150.4 429.6h.01M148.6 438.2h.01M154.1 431.3h.01M149.6 433.9h.01M153.3 436.7h.01M148.1 434.8h.01M155.3 422.6h.01M158.4 411.2h.01M148.2 438.8h.01M151.3 426.8h.01M150.9 428.0h.01M149.8 427.7h.01M151.2 426.4h.01M160.3 434.1h.01M147.3 438.0h.01M152.2 430.5h.01M152.3 432.8h.01M152.2 421.5h.01M150.4 434.6h.01M147.6 437.4h.01M153.5 421.6h.01M162.8 434.9h.01M156.7 421.2h.01M147.4 438.3h.01M152.9 424.8h.01M150.5 427.9h.01M153.3 427.1h.01M147.5 438.0h.01M149.1 436.2h.01M160.8 431.1h.01M148.0 437.0h.01M149.8 431.3h.01M148.7 439.1h.01M152.0 433.7h.01M149.0 431.8h.01M148.7 433.1h.01M152.4 438.4h.01M155.2 425.4h.01M151.6 431.9h.01M154.7 435.2h.01M157.7 432.7h.01M149.0 434.5h.01M155.0 428.6h.01M149.5 432.2h.01M149.8 438.3h.01M152.6 437.7h.01M153.3 432.8h.01M155.2 435.9h.01M162.4 436.3h.01M150.6 438.5h.01M156.9 435.5h.01M155.1 429.5h.01M154.9 430.9h.01M149.2 435.7h.01M150.0 427.8h.01M148.4 435.6h.01M148.2 437.2h.01M149.0 438.9h.01M153.2 433.5h.01M163.4 405.5h.01M160.1 428.0h.01M160.7 405.0h.01M155.7 418.4h.01M149.6 432.8h.01M151.9 425.0h.01M149.8 435.2h.01M151.3 439.0h.01M147.2 439.2h.01M163.2 415.5h.01M147.5 439.0h.01M148.3 433.6h.01M148.8 436.4h.01M157.9 398.0h.01M151.2 426.7h.01M149.5 428.9h.01M164.1 424.6h.01M156.8 438.5h.01M154.4 418.7h.01" stroke="#8f8f8f" stroke-width="1.15" stroke-linecap="round" fill="none"/>
<path d="M104.8 380.3h.01M179.8 412.7h.01M174.0 398.7h.01M175.8 416.2h.01M169.9 425.6h.01M191.0 422.6h.01M180.4 397.4h.01M167.3 427.8h.01M171.1 415.6h.01M197.0 396.3h.01M170.2 413.3h.01M174.2 382.4h.01M177.1 416.4h.01M181.4 404.7h.01M186.3 396.5h.01M175.0 395.3h.01M181.9 400.6h.01M176.5 417.9h.01M179.0 413.1h.01M167.3 430.9h.01M168.6 411.0h.01M167.4 382.9h.01M168.6 424.4h.01M185.2 415.5h.01M181.0 413.3h.01M166.9 433.6h.01M176.9 412.8h.01M167.8 389.2h.01M168.1 395.9h.01M177.5 418.8h.01M173.5 401.1h.01M168.1 401.3h.01M180.3 399.7h.01M167.3 420.6h.01M168.4 420.8h.01M172.4 411.5h.01M168.9 424.7h.01M181.8 411.5h.01M168.5 413.7h.01M171.2 433.1h.01M174.5 427.1h.01M167.8 407.3h.01M182.4 413.8h.01M174.9 410.3h.01M171.5 409.1h.01M191.9 365.2h.01M176.4 398.0h.01M168.5 391.9h.01M172.3 393.1h.01M175.7 422.4h.01M175.2 393.8h.01M180.7 395.5h.01M176.5 405.7h.01M198.9 409.3h.01M171.4 412.5h.01M176.4 417.8h.01M172.9 392.8h.01M169.9 411.7h.01M173.0 417.4h.01M178.2 408.1h.01M182.4 387.6h.01M176.3 416.1h.01M177.1 394.1h.01M169.7 425.0h.01M176.0 406.0h.01M171.6 402.9h.01M168.5 428.4h.01M175.5 414.4h.01" stroke="#555" stroke-width="1.1" stroke-linecap="round" fill="none"/>
<path d="M114.7 461.4h.01M120.6 460.8h.01M124.6 472.2h.01M119.3 447.6h.01M121.3 453.2h.01M130.7 477.3h.01M121.5 461.8h.01M118.1 453.8h.01M118.8 445.7h.01M126.5 470.4h.01M114.3 448.7h.01M119.2 445.4h.01M120.3 448.2h.01M119.9 449.0h.01M125.7 475.6h.01M125.9 472.5h.01M127.0 471.9h.01M120.0 453.6h.01M124.8 467.4h.01M120.9 463.7h.01M122.4 471.0h.01M125.1 466.4h.01M129.4 476.0h.01M120.3 455.3h.01M116.1 440.8h.01M119.2 444.6h.01M118.4 442.9h.01M119.0 472.0h.01M117.8 444.0h.01M121.3 475.5h.01M115.3 451.2h.01M121.8 455.5h.01M120.3 450.5h.01M119.4 457.0h.01M125.1 468.3h.01M132.9 479.0h.01M130.3 477.2h.01M121.1 456.5h.01M118.7 453.1h.01M128.4 474.0h.01M108.6 442.8h.01M122.3 460.1h.01M115.9 439.2h.01M116.4 449.8h.01M112.8 451.2h.01M116.7 465.4h.01M114.6 444.4h.01M116.5 444.7h.01M121.3 464.2h.01M116.5 450.2h.01M116.1 456.2h.01M119.4 460.2h.01M114.4 459.5h.01M125.1 469.3h.01M121.0 452.2h.01M117.5 443.0h.01M115.9 443.6h.01M122.3 471.6h.01M123.3 464.1h.01M123.6 474.2h.01M110.0 445.3h.01M123.9 468.5h.01M124.1 468.5h.01M120.8 454.3h.01M123.8 461.4h.01M115.6 444.3h.01M117.1 456.6h.01M132.7 478.9h.01M126.4 470.1h.01M118.6 454.2h.01M110.5 453.2h.01M119.3 452.0h.01M125.8 472.4h.01M120.2 450.8h.01M122.5 465.7h.01M120.5 454.8h.01M119.1 450.4h.01M120.5 454.3h.01M117.0 456.6h.01M115.6 441.5h.01M121.9 471.4h.01M121.2 453.7h.01M113.7 440.1h.01M118.4 466.7h.01M123.0 465.6h.01M120.6 457.4h.01M123.2 472.7h.01M126.5 474.0h.01M117.1 450.4h.01M109.4 441.4h.01M128.4 476.2h.01M122.1 467.9h.01M120.3 458.5h.01M118.7 467.1h.01M113.2 443.2h.01M116.0 440.5h.01M125.1 471.5h.01M121.5 463.5h.01M123.3 459.8h.01M111.8 457.9h.01M117.1 442.3h.01M124.2 474.5h.01M118.2 443.2h.01M119.6 471.9h.01M132.9 478.7h.01M120.0 451.9h.01M117.5 454.6h.01M128.2 474.7h.01M125.5 471.7h.01M122.1 464.5h.01M125.2 473.2h.01M115.2 453.8h.01M121.4 454.9h.01M113.0 449.7h.01M116.2 466.9h.01M118.6 443.7h.01M120.8 450.3h.01M114.9 446.0h.01M125.7 474.6h.01M132.0 478.9h.01M125.4 475.0h.01M122.7 459.3h.01M130.7 476.8h.01M119.9 457.3h.01M127.7 473.7h.01M118.9 442.2h.01M114.3 441.2h.01M122.7 466.4h.01M124.2 462.3h.01M120.7 451.3h.01M122.1 461.3h.01M125.1 471.8h.01M113.7 447.2h.01M118.9 454.2h.01M112.2 447.1h.01M115.2 449.5h.01M116.8 463.3h.01M116.4 451.5h.01M124.2 463.2h.01M125.2 465.8h.01M121.5 465.3h.01M117.9 452.7h.01M121.0 456.6h.01M114.6 439.2h.01M119.3 449.8h.01M130.8 477.6h.01M123.9 475.7h.01M110.7 457.4h.01M121.8 453.8h.01M122.3 455.5h.01M117.1 442.0h.01M125.1 472.8h.01M121.0 462.6h.01M121.1 464.9h.01M118.3 457.0h.01M124.7 467.7h.01M129.6 477.9h.01M119.7 463.9h.01M111.4 441.4h.01M111.2 462.3h.01M118.9 455.2h.01M123.7 461.2h.01M121.1 458.3h.01M120.7 452.6h.01M117.2 456.1h.01M118.0 441.1h.01M119.1 447.9h.01M123.1 468.7h.01M117.5 455.7h.01M119.4 444.1h.01M122.6 468.7h.01M129.4 475.5h.01M121.3 457.4h.01M122.2 460.3h.01M120.7 449.5h.01M121.3 454.4h.01M118.3 462.5h.01M113.9 457.5h.01M123.9 462.4h.01M119.4 444.2h.01M118.7 456.8h.01M125.4 467.6h.01M126.7 471.0h.01M121.3 467.4h.01M124.3 468.2h.01M120.7 450.3h.01M112.6 451.0h.01M122.8 461.9h.01M115.5 466.8h.01M118.0 443.5h.01M123.1 464.9h.01M121.7 464.0h.01M114.3 447.4h.01M117.7 456.9h.01M119.5 444.0h.01M120.3 458.8h.01M113.6 440.6h.01M127.8 477.1h.01M127.2 476.3h.01M116.1 443.3h.01M121.1 453.4h.01M115.8 448.7h.01M119.0 459.7h.01M120.5 463.0h.01M113.9 445.1h.01M117.6 453.8h.01M118.6 447.2h.01M117.9 439.6h.01M126.1 471.4h.01M117.5 440.4h.01M125.2 475.0h.01M125.8 472.4h.01M122.5 456.0h.01M128.8 475.3h.01M123.7 470.1h.01M125.7 470.6h.01M119.4 467.1h.01M115.8 460.3h.01M116.7 442.7h.01M118.0 440.9h.01M117.9 447.2h.01M124.5 470.1h.01M120.3 464.6h.01M121.8 455.1h.01M118.0 466.6h.01M105.5 458.8h.01M117.8 458.0h.01M119.7 445.4h.01M125.7 468.7h.01M112.5 460.2h.01M121.3 455.9h.01M112.1 447.7h.01M124.8 471.2h.01M125.3 467.1h.01M121.0 467.3h.01M124.6 465.1h.01M120.2 453.2h.01M118.4 450.9h.01M126.0 471.3h.01M123.5 464.4h.01M121.3 466.0h.01M121.8 469.3h.01M122.3 466.3h.01M115.1 450.4h.01M129.7 475.9h.01M121.0 452.2h.01M121.3 463.4h.01M129.6 476.0h.01M128.7 474.6h.01M116.9 442.4h.01M115.8 453.5h.01M122.8 464.0h.01M117.3 447.7h.01M133.0 478.9h.01M120.2 453.3h.01M117.1 459.1h.01M117.1 454.9h.01M118.0 443.1h.01M119.0 459.4h.01M114.6 439.7h.01M110.4 445.9h.01M121.9 454.3h.01M122.5 469.8h.01M123.7 466.3h.01M110.8 460.9h.01M116.7 443.1h.01M114.2 457.0h.01M115.6 439.5h.01M124.8 468.0h.01M122.0 456.5h.01M122.9 457.5h.01M117.8 441.6h.01M120.0 452.5h.01M122.5 455.7h.01M126.8 471.6h.01M124.0 464.0h.01M120.3 458.6h.01M125.2 466.2h.01M110.4 452.5h.01M120.5 455.4h.01M117.1 454.4h.01M118.0 445.1h.01M120.1 456.8h.01M114.8 458.4h.01M120.7 466.7h.01M116.4 443.2h.01M117.8 449.2h.01M129.5 476.8h.01M123.2 459.3h.01M120.5 451.5h.01M124.6 467.3h.01M112.3 440.6h.01M123.4 462.6h.01M112.9 449.4h.01M120.7 474.7h.01M134.4 479.6h.01M117.2 466.5h.01M118.8 446.7h.01M122.5 456.0h.01M117.2 443.3h.01M122.5 460.5h.01M124.4 465.3h.01M126.5 471.5h.01M119.2 444.0h.01M113.2 450.3h.01M119.2 444.5h.01M123.1 461.7h.01M124.8 467.2h.01M124.4 472.3h.01M116.8 447.7h.01M118.7 443.9h.01M121.7 467.5h.01M125.7 468.5h.01M116.2 439.9h.01M119.9 458.2h.01M120.0 468.2h.01M126.9 476.1h.01M123.8 469.7h.01M116.6 439.7h.01M111.8 449.3h.01M120.6 459.4h.01M118.1 453.6h.01M118.2 448.0h.01M117.5 445.5h.01M114.1 441.2h.01M127.1 473.0h.01M118.5 461.8h.01M118.2 447.6h.01M124.7 470.7h.01M114.1 450.7h.01M127.5 472.4h.01M121.4 459.6h.01M125.9 469.0h.01M116.8 442.9h.01M120.0 447.6h.01M124.2 467.1h.01M121.1 454.5h.01M116.4 455.8h.01M127.3 472.7h.01M116.1 451.7h.01M130.3 477.2h.01M124.6 473.8h.01M128.5 478.1h.01M127.5 473.9h.01M124.1 462.5h.01M114.3 439.4h.01M124.1 470.4h.01M117.6 469.9h.01M130.5 478.1h.01M128.9 477.3h.01M112.6 444.7h.01M117.2 460.9h.01M123.9 464.2h.01M122.2 465.6h.01M127.3 473.0h.01M121.7 460.7h.01M112.2 439.5h.01M126.9 471.4h.01M120.4 451.7h.01M133.2 478.9h.01M120.1 463.8h.01M125.5 468.8h.01M114.4 441.8h.01M132.8 478.8h.01M122.7 466.5h.01M131.0 477.4h.01M130.7 478.0h.01M131.9 478.4h.01M118.6 457.7h.01M122.5 469.1h.01M127.4 473.7h.01M119.6 450.8h.01M118.6 444.6h.01M125.0 465.7h.01M109.5 456.8h.01M120.9 452.5h.01M110.6 451.8h.01M116.4 444.5h.01M128.9 476.0h.01M130.4 477.2h.01M122.9 459.5h.01M123.8 463.4h.01M121.4 452.7h.01M124.6 465.8h.01M119.7 456.1h.01M119.7 451.3h.01M123.1 464.9h.01M129.8 477.5h.01M122.7 460.7h.01M129.9 478.7h.01M118.8 456.8h.01M124.6 472.1h.01M116.1 441.0h.01M115.8 441.5h.01M120.3 454.5h.01M118.5 468.5h.01M124.6 464.2h.01M127.6 474.2h.01M127.5 473.6h.01M121.6 452.1h.01M122.0 457.7h.01M120.7 459.7h.01M115.8 454.4h.01M117.4 440.5h.01M115.4 443.8h.01M109.8 451.5h.01M116.9 446.3h.01M121.9 459.8h.01M123.1 468.1h.01M125.3 470.1h.01M127.3 472.5h.01M130.9 477.1h.01M119.3 451.1h.01M120.1 448.4h.01M130.2 477.5h.01M116.2 447.4h.01M125.0 469.5h.01M118.6 466.2h.01M118.3 446.1h.01M115.1 451.1h.01M118.8 447.2h.01M121.0 452.6h.01M127.2 474.3h.01M112.4 454.1h.01M114.6 439.6h.01M128.2 474.9h.01M129.0 474.8h.01M121.4 457.7h.01M118.9 467.2h.01M122.4 468.2h.01M121.8 463.9h.01M119.8 447.3h.01M125.9 469.5h.01M122.4 466.6h.01M127.5 473.9h.01M125.3 470.5h.01M126.0 469.2h.01M119.2 443.5h.01M110.3 472.3h.01M118.0 444.6h.01M120.2 447.0h.01M119.4 457.4h.01M119.4 461.7h.01M127.1 472.6h.01M127.9 474.9h.01M118.4 449.2h.01M129.7 479.2h.01M117.6 458.3h.01M115.4 449.9h.01M105.8 446.2h.01M115.0 441.2h.01M125.3 470.5h.01M120.2 453.1h.01M120.9 453.8h.01M119.0 443.0h.01M124.4 466.1h.01M117.1 449.6h.01M127.2 472.5h.01M125.1 465.5h.01M122.0 459.3h.01M125.0 466.7h.01M108.2 439.7h.01M123.0 470.8h.01M124.3 472.5h.01M118.3 441.3h.01M127.0 473.7h.01M118.6 453.6h.01M119.1 454.2h.01M117.7 451.7h.01M123.4 462.7h.01M119.8 455.4h.01M120.8 461.6h.01M117.1 442.0h.01M117.3 439.5h.01M124.0 463.4h.01M117.7 439.6h.01M110.8 445.7h.01M117.7 446.1h.01M112.0 439.4h.01M115.6 450.9h.01M116.7 461.3h.01M124.2 471.7h.01M127.3 476.7h.01M117.8 459.8h.01M117.2 445.1h.01M118.8 443.0h.01M124.8 464.9h.01M118.6 465.7h.01M127.8 474.9h.01M112.2 445.3h.01M120.6 471.3h.01M117.3 450.2h.01M122.7 462.2h.01M124.3 466.9h.01M121.7 455.3h.01M127.1 474.5h.01M121.0 474.4h.01M121.6 455.0h.01M114.3 439.4h.01M123.1 465.1h.01M126.8 473.7h.01M118.2 446.5h.01M124.2 465.6h.01M115.3 456.2h.01M121.8 468.1h.01M121.4 464.0h.01M122.1 461.5h.01M114.8 468.3h.01M121.7 467.8h.01M126.0 469.8h.01M117.7 443.4h.01M118.3 465.8h.01M122.2 455.8h.01M118.0 443.4h.01M120.8 464.5h.01M114.3 465.7h.01M149.8 458.7h.01M152.0 461.5h.01M147.1 473.0h.01M157.2 444.5h.01M157.6 460.6h.01M167.8 455.4h.01M154.7 455.4h.01M158.7 444.6h.01M150.0 459.9h.01M148.6 470.3h.01M155.7 455.3h.01M157.9 460.5h.01M149.9 470.1h.01M154.2 466.1h.01M150.1 462.0h.01M164.2 444.9h.01M153.3 461.9h.01M154.0 458.5h.01M154.2 441.2h.01M154.4 439.7h.01M152.5 446.5h.01M153.0 472.5h.01M139.1 478.9h.01M142.9 477.5h.01M164.6 440.5h.01M156.4 455.8h.01M149.3 470.0h.01M145.8 475.2h.01M152.9 471.6h.01M147.0 468.6h.01M149.6 469.9h.01M157.7 451.8h.01M158.1 439.3h.01M149.5 472.5h.01M143.3 475.5h.01M151.3 457.7h.01M152.7 448.6h.01M156.5 452.2h.01M155.3 461.7h.01M154.2 445.7h.01M152.8 448.1h.01M153.8 459.1h.01M149.8 468.2h.01M155.7 446.7h.01M154.7 448.6h.01M154.0 474.6h.01M155.3 451.8h.01M155.7 465.2h.01M156.6 458.9h.01M147.7 469.4h.01M156.7 455.5h.01M152.8 462.5h.01M144.2 475.4h.01M150.4 467.6h.01M157.2 449.8h.01M144.0 474.9h.01M153.9 440.6h.01M151.8 450.0h.01M153.3 448.6h.01M153.5 448.2h.01M154.4 459.1h.01M149.8 458.4h.01M149.2 472.1h.01M153.3 461.0h.01M161.2 453.5h.01M156.4 448.4h.01M151.6 469.6h.01M150.2 469.6h.01M151.8 455.1h.01M158.8 467.4h.01M150.4 466.8h.01M156.2 462.3h.01M159.2 448.6h.01M157.2 440.3h.01M160.8 453.3h.01M152.3 462.8h.01M149.5 464.9h.01M149.7 460.4h.01M162.0 443.1h.01M158.0 468.4h.01M150.5 476.9h.01M161.1 452.4h.01M145.4 472.5h.01M157.2 464.3h.01M147.6 468.0h.01M150.8 469.3h.01M153.1 455.9h.01M158.2 441.8h.01M154.9 444.3h.01M167.2 457.3h.01M167.4 452.2h.01M156.8 460.8h.01M155.0 454.2h.01M149.5 469.3h.01M148.4 465.4h.01M146.4 469.4h.01M152.3 458.4h.01M159.2 443.2h.01M149.0 468.1h.01M169.7 445.5h.01M158.5 452.0h.01M146.5 473.4h.01M148.3 466.1h.01M156.8 463.5h.01M150.6 465.3h.01M160.7 440.2h.01M167.6 445.6h.01M148.6 462.9h.01M153.0 464.9h.01M144.1 476.7h.01M153.5 445.6h.01M156.3 452.7h.01M151.5 462.9h.01M151.6 469.8h.01M155.8 441.6h.01M158.1 450.4h.01M151.2 452.4h.01M145.8 472.5h.01M146.9 468.1h.01M150.4 458.4h.01M143.0 475.9h.01M145.6 474.0h.01M156.2 447.9h.01M157.2 464.5h.01M148.6 463.9h.01M149.4 462.2h.01M157.9 441.7h.01M155.2 450.0h.01M147.4 472.7h.01M152.9 452.2h.01M145.9 475.1h.01M150.7 468.1h.01M146.8 467.9h.01M154.0 457.6h.01M154.3 452.1h.01M156.3 454.9h.01M148.7 465.8h.01M153.2 459.9h.01M144.7 477.4h.01M148.2 463.7h.01M153.3 460.7h.01M155.5 450.0h.01M157.2 451.7h.01M157.2 442.0h.01M150.4 459.0h.01M148.6 471.7h.01M144.6 478.1h.01M168.0 453.3h.01M147.8 472.3h.01M145.6 473.0h.01M149.2 472.9h.01M168.1 452.7h.01M162.8 462.5h.01M158.5 453.4h.01M152.0 449.7h.01M156.7 450.0h.01M144.2 474.9h.01M157.9 447.4h.01M146.3 476.6h.01M145.3 475.2h.01M154.2 445.2h.01M148.4 476.4h.01M159.1 451.3h.01M139.1 479.3h.01M154.7 440.9h.01M153.3 450.0h.01M158.5 440.4h.01M145.9 476.2h.01M156.4 446.0h.01M157.2 440.1h.01M155.6 453.9h.01M166.2 441.6h.01M153.1 444.1h.01M152.5 450.4h.01M152.2 452.7h.01M153.6 468.5h.01M150.0 457.3h.01M162.3 447.8h.01M153.9 447.8h.01M158.4 460.9h.01M148.2 471.4h.01M143.4 477.6h.01M150.6 455.2h.01M151.8 457.0h.01M148.9 470.6h.01M153.9 464.8h.01M148.2 468.5h.01M156.7 449.5h.01M155.8 449.9h.01M162.1 442.8h.01M153.0 465.1h.01M144.2 474.5h.01M165.2 453.3h.01M154.6 447.0h.01M147.8 466.7h.01M152.9 444.4h.01M162.3 440.0h.01M149.1 461.3h.01M149.0 460.5h.01M159.7 442.5h.01M142.4 476.5h.01M166.1 447.7h.01M157.9 458.2h.01M154.8 459.1h.01M150.7 456.7h.01M143.4 476.4h.01M161.6 441.0h.01M153.8 474.8h.01M149.9 470.8h.01M148.9 463.5h.01M156.4 451.5h.01M155.5 446.5h.01M152.9 465.4h.01M145.4 471.7h.01M150.1 458.9h.01M150.6 459.1h.01M156.9 456.1h.01M150.5 461.5h.01M164.4 454.3h.01M146.1 470.7h.01M149.8 461.2h.01M149.5 472.5h.01M148.0 473.9h.01M151.9 470.0h.01M163.7 444.5h.01M149.9 471.1h.01M154.9 454.7h.01M146.4 470.2h.01M141.5 477.3h.01M153.8 444.2h.01M153.9 440.6h.01M149.9 464.2h.01M141.7 476.9h.01M150.1 461.5h.01M157.3 442.3h.01M160.1 447.2h.01M159.6 448.2h.01M150.5 465.4h.01M144.5 475.1h.01M154.2 459.5h.01M159.9 442.9h.01M165.8 449.7h.01M154.6 455.6h.01M151.5 458.1h.01M146.9 472.0h.01M151.3 450.8h.01M147.9 471.2h.01M151.6 452.1h.01M151.6 451.8h.01M155.7 454.7h.01M154.5 462.1h.01M152.6 447.1h.01M153.6 471.1h.01M157.1 442.3h.01M158.0 443.7h.01M153.6 443.5h.01M159.1 440.6h.01M153.8 449.2h.01M174.2 443.0h.01M168.4 454.3h.01M152.0 450.3h.01M148.5 472.7h.01M147.7 466.6h.01M151.8 451.9h.01M151.8 458.9h.01M149.6 458.0h.01M160.4 444.3h.01M162.9 465.8h.01M144.5 477.2h.01M154.9 441.1h.01M153.3 461.0h.01M152.0 453.0h.01M150.6 456.0h.01M144.5 476.0h.01M147.7 466.2h.01M156.4 453.5h.01M158.7 442.5h.01M152.7 464.9h.01M168.1 454.8h.01M144.4 474.1h.01M156.5 457.0h.01M159.6 465.3h.01M146.7 474.6h.01M156.8 450.7h.01M144.2 474.5h.01M150.9 468.3h.01M153.0 453.2h.01M154.8 465.5h.01M148.9 464.8h.01M151.5 462.6h.01M157.2 446.7h.01M152.9 469.3h.01M143.3 476.3h.01M148.0 467.9h.01M151.5 456.3h.01M155.8 469.0h.01M151.8 451.9h.01M148.3 472.1h.01M163.6 445.9h.01M139.7 479.0h.01M150.8 462.3h.01M144.7 474.5h.01M157.5 466.8h.01M144.3 475.1h.01M152.4 469.7h.01M150.8 453.9h.01M160.8 457.6h.01M155.7 439.3h.01M154.2 439.8h.01M152.9 471.3h.01M151.7 449.7h.01M161.8 441.8h.01M153.8 457.8h.01M156.2 442.5h.01M155.1 445.2h.01M150.0 466.7h.01M152.7 446.6h.01M148.2 469.0h.01M145.8 475.8h.01M147.0 474.6h.01M178.5 449.5h.01M165.7 449.3h.01M159.1 457.6h.01M165.0 443.9h.01M162.5 440.9h.01M154.2 450.5h.01M155.4 467.0h.01M158.3 441.4h.01M151.3 451.1h.01M160.1 443.5h.01M156.5 466.2h.01M147.0 475.9h.01M154.3 460.9h.01M156.0 443.9h.01M154.5 467.8h.01M164.7 439.5h.01M161.4 440.2h.01M144.9 476.0h.01M144.8 475.4h.01M149.9 469.8h.01M152.9 466.0h.01M148.7 462.3h.01M154.9 451.8h.01M162.5 459.2h.01M145.7 477.4h.01M150.2 466.9h.01M147.4 467.7h.01M152.1 457.2h.01M157.0 450.1h.01M146.0 475.5h.01M150.5 454.9h.01M151.3 457.8h.01M146.8 471.2h.01M146.6 475.5h.01M158.0 444.0h.01M154.7 444.3h.01M163.6 464.2h.01M153.0 453.7h.01M143.5 476.0h.01M156.2 454.1h.01M154.6 442.8h.01M151.8 475.6h.01M149.9 460.7h.01M149.5 465.3h.01M157.5 450.1h.01M151.4 468.4h.01M156.7 451.5h.01M149.9 463.9h.01M146.3 470.5h.01M152.2 452.6h.01M153.4 459.0h.01M140.2 478.4h.01M148.8 465.7h.01M151.9 476.5h.01M154.8 439.8h.01M145.5 471.5h.01M160.1 445.5h.01M155.1 447.8h.01M154.7 456.5h.01M143.9 478.6h.01M166.7 451.0h.01M158.6 449.1h.01M168.4 444.5h.01M148.5 462.2h.01M148.5 466.7h.01M156.7 453.0h.01M155.2 442.8h.01M155.5 463.4h.01M158.3 439.6h.01M155.7 449.7h.01M161.1 452.2h.01M149.7 473.3h.01M163.1 446.6h.01M152.7 449.0h.01M151.7 453.0h.01M163.3 442.9h.01M160.4 441.4h.01M153.0 457.4h.01M158.6 463.0h.01M147.3 466.7h.01M160.3 443.7h.01M158.7 441.2h.01M158.3 462.9h.01M149.3 459.7h.01M151.9 473.1h.01M140.3 478.7h.01M158.7 464.0h.01M148.2 470.0h.01M152.2 448.7h.01M152.2 460.7h.01M152.6 457.2h.01M155.7 458.6h.01M146.7 471.8h.01M165.5 441.2h.01M156.4 440.6h.01M168.9 449.5h.01M155.6 459.4h.01M155.3 454.2h.01M156.6 462.3h.01M146.9 471.3h.01M157.1 440.8h.01M164.7 440.6h.01M151.8 459.3h.01M144.4 476.3h.01M153.2 460.3h.01M149.6 473.0h.01M153.1 458.8h.01M153.1 463.1h.01M141.5 477.7h.01M158.1 456.1h.01M159.2 440.6h.01M156.6 459.1h.01M149.3 471.7h.01M150.5 469.0h.01M157.4 440.3h.01M152.9 466.6h.01M153.4 455.8h.01M152.2 464.7h.01M147.8 468.8h.01M149.8 476.6h.01M158.0 445.1h.01M150.3 459.0h.01M153.0 461.7h.01M158.3 439.9h.01M163.6 455.7h.01M165.6 446.0h.01M158.7 452.3h.01M152.2 462.6h.01M163.1 454.1h.01M155.9 460.2h.01M154.9 452.7h.01M147.6 468.4h.01M148.7 467.6h.01M155.6 456.8h.01M153.5 453.5h.01M149.7 462.3h.01M163.8 449.2h.01M150.4 470.6h.01M152.6 465.6h.01M153.5 458.0h.01M157.6 454.7h.01M154.8 451.1h.01M151.0 453.8h.01M150.1 461.3h.01M157.5 440.8h.01M149.7 460.7h.01M148.5 469.5h.01M161.1 465.8h.01M150.1 461.8h.01M160.2 441.8h.01M142.8 477.0h.01M163.9 441.2h.01M141.3 478.1h.01M151.5 458.3h.01M150.0 460.5h.01M154.1 458.7h.01M152.9 449.7h.01M155.6 441.5h.01M149.6 462.8h.01M157.2 444.8h.01M153.5 455.0h.01M149.3 474.3h.01M153.4 445.1h.01M151.3 461.1h.01M165.0 441.4h.01M145.4 477.0h.01M163.6 445.8h.01M158.8 448.9h.01M162.2 458.8h.01M154.1 445.5h.01M155.9 448.2h.01M149.6 467.4h.01M157.7 457.4h.01M152.0 453.0h.01M148.7 470.0h.01M171.8 459.3h.01M146.9 467.7h.01M155.7 454.0h.01M139.5 479.0h.01M154.0 449.8h.01M154.5 443.9h.01M158.7 456.6h.01M152.5 467.2h.01M152.4 451.8h.01M149.9 456.9h.01M148.9 466.3h.01M152.7 448.4h.01M151.6 451.2h.01M156.9 444.0h.01M161.6 463.2h.01M153.7 455.5h.01M157.0 443.9h.01M143.6 476.8h.01M163.5 455.4h.01M150.6 460.1h.01M157.5 443.7h.01M153.0 462.1h.01M152.9 458.0h.01M148.1 468.7h.01M142.1 476.6h.01M164.3 452.8h.01M151.5 466.8h.01M148.8 467.9h.01M153.7 442.4h.01M154.7 444.0h.01M154.7 453.7h.01M152.1 468.5h.01M157.4 445.4h.01M153.5 456.7h.01M155.8 444.7h.01M152.9 463.2h.01M154.7 458.2h.01M151.0 458.7h.01M154.8 464.4h.01M152.8 475.3h.01M149.2 475.3h.01M149.8 473.7h.01M155.0 453.2h.01M148.6 472.0h.01M138.6 479.1h.01M160.3 443.0h.01M153.9 469.0h.01M151.3 457.0h.01M154.2 450.1h.01M154.4 441.9h.01M159.6 453.4h.01M157.3 464.9h.01M147.6 472.5h.01M145.3 474.7h.01M167.5 454.9h.01M154.8 440.0h.01M154.5 452.8h.01M154.5 470.8h.01M157.9 455.2h.01M150.1 463.4h.01M159.5 453.2h.01M147.3 467.9h.01M140.3 478.1h.01M160.2 462.5h.01M144.3 475.8h.01M148.3 469.7h.01M141.1 479.0h.01M153.0 450.5h.01M156.0 448.5h.01M159.8 468.4h.01M158.4 469.5h.01M152.9 461.4h.01M153.3 465.5h.01M148.4 464.3h.01M159.6 445.3h.01M149.1 460.5h.01M153.9 452.5h.01M155.5 449.7h.01M152.6 448.5h.01M150.4 458.5h.01M148.8 461.0h.01M155.3 444.7h.01M153.1 451.4h.01M153.8 473.4h.01M160.7 439.4h.01M152.0 451.9h.01M144.3 473.8h.01M163.4 458.5h.01M150.8 454.4h.01M152.4 460.5h.01M152.5 456.1h.01M153.7 446.1h.01M153.9 472.4h.01M150.7 463.3h.01M170.0 444.0h.01M153.4 445.0h.01M161.1 441.5h.01M153.5 465.2h.01M147.3 469.4h.01M151.1 452.6h.01M154.7 468.3h.01M152.9 448.4h.01M147.4 471.1h.01M145.5 471.3h.01M151.6 457.9h.01M162.1 467.9h.01M177.6 449.9h.01M151.7 472.0h.01M158.7 450.4h.01M154.7 466.2h.01M166.3 447.3h.01M152.1 460.7h.01M157.7 441.2h.01M160.2 457.0h.01M159.5 445.4h.01M150.1 458.4h.01M160.5 442.9h.01M152.1 456.6h.01M149.8 466.3h.01M148.1 464.8h.01M147.2 474.3h.01M148.1 470.2h.01M156.6 460.0h.01M171.4 441.9h.01M156.5 446.7h.01M151.5 451.7h.01M154.9 461.4h.01M141.2 477.8h.01M152.1 467.5h.01M155.3 450.9h.01M141.6 477.2h.01M145.2 474.5h.01M146.2 473.6h.01M150.0 460.3h.01M152.9 459.4h.01M155.5 442.1h.01M154.4 454.0h.01M163.2 453.9h.01M163.2 440.1h.01M152.2 452.0h.01M147.9 471.7h.01M154.4 474.2h.01M146.6 472.0h.01M156.8 447.5h.01M152.3 452.0h.01M152.5 452.5h.01M155.0 448.2h.01M144.1 475.1h.01M150.9 465.1h.01M150.9 459.4h.01M143.7 475.4h.01M150.9 472.5h.01M152.8 453.3h.01M151.1 468.5h.01M147.9 474.3h.01M147.7 468.3h.01M149.9 475.7h.01M152.0 457.9h.01M160.7 454.1h.01M144.0 474.4h.01M156.8 452.1h.01M143.1 478.7h.01M167.4 445.4h.01M164.5 446.7h.01M139.1 479.1h.01M145.8 471.2h.01M160.2 440.6h.01M152.0 465.4h.01M153.7 459.6h.01M157.5 461.4h.01M154.1 449.7h.01M152.4 453.6h.01M155.4 448.4h.01M151.4 456.8h.01M142.6 477.8h.01M152.3 453.9h.01M145.5 472.9h.01M152.3 469.2h.01M145.5 475.4h.01M155.4 458.6h.01M167.2 456.8h.01M154.7 454.3h.01M146.9 468.7h.01M152.9 451.7h.01M149.8 470.3h.01M167.4 451.4h.01M152.0 450.6h.01M149.8 462.0h.01M153.3 448.0h.01M148.4 465.8h.01M148.5 462.8h.01M152.0 456.9h.01M150.3 466.6h.01M148.8 467.6h.01M149.6 473.1h.01M147.7 465.4h.01M153.8 447.8h.01M157.2 445.3h.01M153.7 448.8h.01M153.6 445.9h.01M155.1 439.8h.01M158.1 451.6h.01M139.6 478.9h.01M151.5 452.8h.01M151.0 452.6h.01M155.8 443.1h.01M157.7 447.6h.01M141.7 477.3h.01M158.3 446.3h.01M160.7 453.6h.01M151.4 450.7h.01M154.4 439.2h.01M153.5 455.6h.01M146.4 471.2h.01M149.4 465.0h.01M174.5 444.1h.01M154.7 451.5h.01M157.7 459.4h.01M152.6 470.8h.01M151.2 454.2h.01M153.8 447.0h.01M162.4 452.7h.01M144.3 474.2h.01M157.9 451.6h.01M146.0 473.0h.01M165.2 461.9h.01M145.5 471.9h.01M145.3 472.5h.01M154.0 445.6h.01M149.4 464.8h.01M156.2 442.7h.01M153.7 445.9h.01M153.7 453.0h.01M156.9 457.1h.01M149.0 463.9h.01M159.3 454.3h.01M152.0 473.2h.01M148.9 465.3h.01M153.2 471.3h.01M141.1 478.7h.01M158.9 461.3h.01M150.3 460.6h.01M148.6 472.1h.01M146.9 469.2h.01M149.3 461.9h.01M162.5 439.9h.01M142.2 477.9h.01M153.4 461.2h.01M153.2 451.3h.01M149.4 468.6h.01M143.4 475.3h.01M148.5 471.7h.01M148.3 468.2h.01M148.5 467.3h.01M160.7 442.3h.01M151.5 459.8h.01M153.3 459.1h.01M139.7 478.7h.01M162.4 460.3h.01M156.2 444.4h.01M147.5 467.7h.01M157.1 464.3h.01M152.8 449.5h.01M157.0 445.8h.01M152.1 461.7h.01M156.2 441.4h.01M162.6 457.9h.01M155.3 445.1h.01M153.1 466.8h.01M156.7 454.5h.01M160.7 451.6h.01M153.6 446.4h.01M156.3 470.9h.01M157.2 465.5h.01M154.0 448.1h.01M159.5 442.0h.01M156.9 454.9h.01M151.6 465.1h.01" stroke="#000" stroke-width="1.15" stroke-linecap="round" fill="none"/>
<polygon points="136.3,480.3 136.3,479.7 136.0,478.7 135.6,477.1 135.2,475.6 134.8,474.0 134.0,470.8 132.8,466.1 131.6,461.3 130.4,456.6 129.2,451.8 128.0,447.1 126.8,442.4 125.9,439.2 117.3,439.2 118.1,442.4 119.3,447.1 120.5,451.8 121.7,456.6 123.0,461.3 124.3,466.1 126.0,470.8 127.6,474.0 128.8,475.6 130.4,477.1 132.6,478.7 134.3,479.7 135.7,480.3" fill="#000"/>
<polygon points="136.3,480.3 136.3,479.7 136.6,478.7 137.0,477.1 137.4,475.6 137.8,474.0 138.6,470.8 139.8,466.1 141.0,461.3 142.2,456.6 143.4,451.8 144.6,447.1 145.8,442.4 146.7,439.2 155.3,439.2 154.5,442.4 153.3,447.1 152.1,451.8 150.9,456.6 149.6,461.3 148.3,466.1 146.6,470.8 145.0,474.0 143.8,475.6 142.2,477.1 140.0,478.7 138.3,479.7 136.9,480.3" fill="#000"/>
<line x1="105.80" y1="353.82" x2="105.80" y2="480.30" stroke="#c8c8c8" stroke-width="0.5" stroke-dasharray="1 1.5"/>
<line x1="166.80" y1="353.82" x2="166.80" y2="480.30" stroke="#c8c8c8" stroke-width="0.5" stroke-dasharray="1 1.5"/>
<line x1="45.40" y1="353.37" x2="45.40" y2="480.75" stroke="#000" stroke-width="0.95"/>
<line x1="44.95" y1="480.30" x2="228.00" y2="480.30" stroke="#000" stroke-width="0.95"/>
<line x1="43.00" y1="480.30" x2="45.40" y2="480.30" stroke="#000" stroke-width="0.8"/>
<text x="42.0" y="484.0" font-size="10.4" text-anchor="end">0</text>
<line x1="43.00" y1="448.68" x2="45.40" y2="448.68" stroke="#000" stroke-width="0.8"/>
<text x="42.0" y="452.38" font-size="10.4" text-anchor="end">1</text>
<line x1="43.00" y1="417.06" x2="45.40" y2="417.06" stroke="#000" stroke-width="0.8"/>
<text x="42.0" y="420.76" font-size="10.4" text-anchor="end">2</text>
<line x1="43.00" y1="385.44" x2="45.40" y2="385.44" stroke="#000" stroke-width="0.8"/>
<text x="42.0" y="389.14" font-size="10.4" text-anchor="end">3</text>
<line x1="43.00" y1="353.82" x2="45.40" y2="353.82" stroke="#000" stroke-width="0.8"/>
<text x="42.0" y="357.52" font-size="10.4" text-anchor="end">4</text>
<line x1="75.30" y1="480.30" x2="75.30" y2="482.70" stroke="#000" stroke-width="0.8"/>
<text x="74.30000000000001" y="494.0" font-size="10.2" text-anchor="middle">−2</text>
<line x1="136.30" y1="480.30" x2="136.30" y2="482.70" stroke="#000" stroke-width="0.8"/>
<text x="136.3" y="494.0" font-size="10.2" text-anchor="middle">0</text>
<line x1="197.30" y1="480.30" x2="197.30" y2="482.70" stroke="#000" stroke-width="0.8"/>
<text x="197.3" y="494.0" font-size="10.2" text-anchor="middle">2</text>
<text x="134.4" y="505.6" font-size="10.2" text-anchor="middle">Log<tspan font-size="70%" dy="0.25em">2</tspan><tspan dy="-0.18em"> fold change</tspan></text>
<text x="23.8" y="415" font-size="10" text-anchor="middle" transform="rotate(-90 23.8 415)">−Log<tspan font-size="70%" dy="0.25em">10</tspan><tspan dy="-0.18em" font-style="italic"> P</tspan></text>
<text x="144" y="335" font-size="10.6" text-anchor="middle" font-weight="bold">GPR15<tspan font-size="70%" dy="-0.4em">+</tspan><tspan dy="0.28em"> vs. GPR15</tspan><tspan font-size="70%" dy="-0.4em">−</tspan></text>
<text x="141.5" y="347.5" font-size="10.6" text-anchor="middle" font-weight="bold">Tregs</text>
<text x="51.4" y="363.6" font-size="7.6" style="stroke:none">10</text>
<text x="216.6" y="363.2" font-size="7.3" style="stroke:none">84</text>
<text x="70.4" y="361.1" font-size="5.2" style="stroke:none;fill:#111">4930412O13Rik</text>
<text x="92" y="369.5" font-size="5.2" style="stroke:none;fill:#111">Il1rl1</text>
<text x="81.6" y="386.2" font-size="5.2" style="stroke:none;fill:#111">Il17rb</text>
<text x="93" y="394.3" font-size="5.2" style="stroke:none;fill:#111">Orm1</text>
<text x="70.4" y="402.5" font-size="5.2" style="stroke:none;fill:#111">Pxdc1</text>
<text x="90.6" y="402.5" font-size="5.2" style="stroke:none;fill:#111">Ccnb2</text>
<text x="89" y="415.8" font-size="5.2" style="stroke:none;fill:#111">Gzma</text>
<text x="67" y="420.0" font-size="5.2" style="stroke:none;fill:#111">Palld</text>
<text x="92" y="432.7" font-size="5.2" style="stroke:none;fill:#111">Mtmr10</text>
<text x="85" y="439.0" font-size="5.2" style="stroke:none;fill:#111">Nptx</text>
<text x="189.7" y="353.9" font-size="5.2" style="stroke:none;fill:#111">Setdb2</text>
<text x="180" y="362.09999999999997" font-size="5.2" style="stroke:none;fill:#111">Ndrg3</text>
<text x="180" y="371.2" font-size="5.2" style="stroke:none;fill:#111">Il1r1</text>
<text x="181.6" y="380.5" font-size="5.2" style="stroke:none;fill:#111">Lag3</text>
<text x="185.5" y="386.3" font-size="5.2" style="stroke:none;fill:#111">Tnfrsf1a</text>
<text x="193" y="398.7" font-size="5.2" style="stroke:none;fill:#111">Itch</text>
<text x="187.6" y="406.7" font-size="5.2" style="stroke:none;fill:#111">Ccr5</text>
<text x="185.5" y="416.2" font-size="5.2" style="stroke:none;fill:#111">Klrc1</text>
<text x="208.2" y="418.9" font-size="5.2" style="stroke:none;fill:#111">Ugcg</text>
<text x="182.2" y="428.0" font-size="5.2" style="stroke:none;fill:#111">Sell</text>
<text x="182.2" y="437.0" font-size="5.2" style="stroke:none;fill:#111">Rorc</text>
<line x1="168.70" y1="387.70" x2="182.10" y2="379.20" stroke="#777" stroke-width="0.5"/>
<line x1="174.40" y1="387.70" x2="186.00" y2="385.00" stroke="#777" stroke-width="0.5"/>
<line x1="177.70" y1="403.30" x2="192.70" y2="396.90" stroke="#777" stroke-width="0.5"/>
<line x1="172.50" y1="412.70" x2="187.90" y2="406.20" stroke="#777" stroke-width="0.5"/>
<line x1="166.70" y1="421.00" x2="185.40" y2="414.60" stroke="#777" stroke-width="0.5"/>
<line x1="176.30" y1="421.00" x2="181.20" y2="424.80" stroke="#777" stroke-width="0.5"/>
<line x1="168.70" y1="425.80" x2="181.20" y2="433.80" stroke="#777" stroke-width="0.5"/>
<line x1="172.50" y1="370.00" x2="179.20" y2="370.00" stroke="#777" stroke-width="0.5"/>
<line x1="326.90" y1="352.00" x2="326.90" y2="480.65" stroke="#000" stroke-width="0.95"/>
<line x1="326.45" y1="480.20" x2="454.50" y2="480.20" stroke="#000" stroke-width="0.95"/>
<line x1="324.50" y1="360.60" x2="326.90" y2="360.60" stroke="#000" stroke-width="1.0"/>
<text x="323.5" y="363.90000000000003" font-size="9.3" text-anchor="end">Gzma</text>
<rect x="361.10" y="357.10" width="28.90" height="7.00" fill="#000"/>
<line x1="324.50" y1="371.85" x2="326.90" y2="371.85" stroke="#000" stroke-width="1.0"/>
<text x="323.5" y="375.15000000000003" font-size="9.3" text-anchor="end">Il17rb</text>
<rect x="361.52" y="368.35" width="28.48" height="7.00" fill="#000"/>
<line x1="324.50" y1="383.10" x2="326.90" y2="383.10" stroke="#000" stroke-width="1.0"/>
<text x="323.5" y="386.40000000000003" font-size="9.3" text-anchor="end">Il1rl1</text>
<rect x="367.48" y="379.60" width="22.53" height="7.00" fill="#000"/>
<line x1="324.50" y1="394.35" x2="326.90" y2="394.35" stroke="#000" stroke-width="1.0"/>
<line x1="324.50" y1="405.60" x2="326.90" y2="405.60" stroke="#000" stroke-width="1.0"/>
<text x="323.5" y="408.90000000000003" font-size="9.3" text-anchor="end">Klrc1</text>
<rect x="390.00" y="402.10" width="22.53" height="7.00" fill="#000"/>
<line x1="324.50" y1="416.85" x2="326.90" y2="416.85" stroke="#000" stroke-width="1.0"/>
<text x="323.5" y="420.15000000000003" font-size="9.3" text-anchor="end">Lag3</text>
<rect x="390.00" y="413.35" width="22.53" height="7.00" fill="#000"/>
<line x1="324.50" y1="428.10" x2="326.90" y2="428.10" stroke="#000" stroke-width="1.0"/>
<text x="323.5" y="431.40000000000003" font-size="9.3" text-anchor="end">Tnfrsf1a</text>
<rect x="390.00" y="424.60" width="22.95" height="7.00" fill="#000"/>
<line x1="324.50" y1="439.35" x2="326.90" y2="439.35" stroke="#000" stroke-width="1.0"/>
<text x="323.5" y="442.65000000000003" font-size="9.3" text-anchor="end">Rorc</text>
<rect x="390.00" y="435.85" width="24.01" height="7.00" fill="#000"/>
<line x1="324.50" y1="450.60" x2="326.90" y2="450.60" stroke="#000" stroke-width="1.0"/>
<text x="323.5" y="453.90000000000003" font-size="9.3" text-anchor="end">Ccr5</text>
<rect x="390.00" y="447.10" width="25.93" height="7.00" fill="#000"/>
<line x1="324.50" y1="461.85" x2="326.90" y2="461.85" stroke="#000" stroke-width="1.0"/>
<text x="323.5" y="465.15000000000003" font-size="9.3" text-anchor="end">Il1r1</text>
<rect x="390.00" y="458.35" width="25.93" height="7.00" fill="#000"/>
<line x1="324.50" y1="473.10" x2="326.90" y2="473.10" stroke="#000" stroke-width="1.0"/>
<text x="323.5" y="476.40000000000003" font-size="9.3" text-anchor="end">Sell</text>
<rect x="390.00" y="469.60" width="33.58" height="7.00" fill="#000"/>
<line x1="390.20" y1="353.00" x2="390.20" y2="480.20" stroke="#000" stroke-width="0.9"/>
<line x1="347.50" y1="480.20" x2="347.50" y2="482.60" stroke="#000" stroke-width="1.0"/>
<text x="347.2" y="492.8" font-size="9.2" text-anchor="middle">−2</text>
<line x1="390.00" y1="480.20" x2="390.00" y2="482.60" stroke="#000" stroke-width="1.0"/>
<text x="390.0" y="492.8" font-size="9.2" text-anchor="middle">0</text>
<line x1="432.50" y1="480.20" x2="432.50" y2="482.60" stroke="#000" stroke-width="1.0"/>
<text x="432.5" y="492.8" font-size="9.2" text-anchor="middle">2</text>
<text x="388.3" y="508.6" font-size="11" text-anchor="middle">LogFC</text>
<text x="392.4" y="336.2" font-size="10.25" text-anchor="middle" font-weight="bold">GPR15<tspan font-size="70%" dy="-0.4em">+</tspan><tspan dy="0.28em"> vs. GPR15</tspan><tspan font-size="70%" dy="-0.4em">−</tspan></text>
<text x="391.5" y="348.6" font-size="10.25" text-anchor="middle" font-weight="bold">Tregs</text>
<line x1="47.20" y1="554.80" x2="47.20" y2="648.20" stroke="#000" stroke-width="1.15"/>
<line x1="46.70" y1="647.70" x2="109.30" y2="647.70" stroke="#000" stroke-width="1.15"/>
<line x1="44.50" y1="647.70" x2="47.20" y2="647.70" stroke="#000" stroke-width="1.0"/>
<text x="43.900000000000006" y="651.2" font-size="10" text-anchor="end">0</text>
<line x1="44.50" y1="616.90" x2="47.20" y2="616.90" stroke="#000" stroke-width="1.0"/>
<text x="43.900000000000006" y="620.4" font-size="10" text-anchor="end">200</text>
<line x1="44.50" y1="586.10" x2="47.20" y2="586.10" stroke="#000" stroke-width="1.0"/>
<text x="43.900000000000006" y="589.6" font-size="10" text-anchor="end">400</text>
<line x1="44.50" y1="555.30" x2="47.20" y2="555.30" stroke="#000" stroke-width="1.0"/>
<text x="43.900000000000006" y="558.8" font-size="10" text-anchor="end">600</text>
<text x="79.6" y="546.3" font-size="10.2" text-anchor="middle" font-weight="bold">IL17</text>
<line x1="61.30" y1="647.70" x2="61.30" y2="650.10" stroke="#000" stroke-width="1.0"/>
<line x1="94.10" y1="647.70" x2="94.10" y2="650.10" stroke="#000" stroke-width="1.0"/>
<text x="61.3" y="660" font-size="10.1" text-anchor="middle">HC</text>
<text x="94.8" y="660" font-size="10.1" text-anchor="middle">CRC</text>
<text x="20" y="600" font-size="11" text-anchor="middle" transform="rotate(-90 20 600)">MFI</text>
<line x1="55.50" y1="595.75" x2="67.50" y2="614.50" stroke="#000" stroke-width="1.15"/>
<line x1="55.50" y1="598.00" x2="67.50" y2="613.00" stroke="#000" stroke-width="1.15"/>
<line x1="55.50" y1="615.00" x2="67.50" y2="588.00" stroke="#000" stroke-width="1.15"/>
<circle cx="55.50" cy="595.75" r="1.9" fill="#fff" stroke="#000" stroke-width="1.05"/>
<circle cx="55.50" cy="598.00" r="1.9" fill="#fff" stroke="#000" stroke-width="1.05"/>
<circle cx="55.50" cy="615.00" r="1.9" fill="#fff" stroke="#000" stroke-width="1.05"/>
<circle cx="67.50" cy="614.50" r="2.5" fill="#000"/>
<circle cx="67.50" cy="613.00" r="2.5" fill="#000"/>
<circle cx="67.50" cy="588.00" r="2.5" fill="#000"/>
<polyline points="54.50,585.00 54.50,578.00 54.50,578.50 66.50,578.50 66.50,585.00" fill="none" stroke="#000" stroke-width="1.1"/>
<text x="60.5" y="575.8" font-size="9" text-anchor="middle">ns</text>
<line x1="88.00" y1="581.00" x2="100.00" y2="599.20" stroke="#000" stroke-width="1.0"/>
<line x1="88.00" y1="589.60" x2="100.00" y2="602.10" stroke="#000" stroke-width="1.0"/>
<line x1="88.00" y1="595.80" x2="100.00" y2="597.60" stroke="#000" stroke-width="1.0"/>
<line x1="88.00" y1="607.70" x2="100.00" y2="604.40" stroke="#000" stroke-width="1.0"/>
<line x1="88.00" y1="611.20" x2="100.00" y2="606.60" stroke="#000" stroke-width="1.0"/>
<line x1="88.00" y1="616.50" x2="100.00" y2="567.40" stroke="#000" stroke-width="1.0"/>
<line x1="88.00" y1="619.80" x2="100.00" y2="581.00" stroke="#000" stroke-width="1.0"/>
<line x1="88.00" y1="624.00" x2="100.00" y2="590.80" stroke="#000" stroke-width="1.0"/>
<line x1="88.00" y1="628.90" x2="100.00" y2="598.40" stroke="#000" stroke-width="1.0"/>
<circle cx="88.00" cy="581.00" r="1.9" fill="#fff" stroke="#000" stroke-width="1.05"/>
<circle cx="88.00" cy="589.60" r="1.9" fill="#fff" stroke="#000" stroke-width="1.05"/>
<circle cx="88.00" cy="595.80" r="1.9" fill="#fff" stroke="#000" stroke-width="1.05"/>
<circle cx="88.00" cy="607.70" r="1.9" fill="#fff" stroke="#000" stroke-width="1.05"/>
<circle cx="88.00" cy="611.20" r="1.9" fill="#fff" stroke="#000" stroke-width="1.05"/>
<circle cx="88.00" cy="616.50" r="1.9" fill="#fff" stroke="#000" stroke-width="1.05"/>
<circle cx="88.00" cy="619.80" r="1.9" fill="#fff" stroke="#000" stroke-width="1.05"/>
<circle cx="88.00" cy="624.00" r="1.9" fill="#fff" stroke="#000" stroke-width="1.05"/>
<circle cx="88.00" cy="628.90" r="1.9" fill="#fff" stroke="#000" stroke-width="1.05"/>
<circle cx="100.00" cy="599.20" r="2.5" fill="#000"/>
<circle cx="100.00" cy="602.10" r="2.5" fill="#000"/>
<circle cx="100.00" cy="597.60" r="2.5" fill="#000"/>
<circle cx="100.00" cy="604.40" r="2.5" fill="#000"/>
<circle cx="100.00" cy="606.60" r="2.5" fill="#000"/>
<circle cx="100.00" cy="567.40" r="2.5" fill="#000"/>
<circle cx="100.00" cy="581.00" r="2.5" fill="#000"/>
<circle cx="100.00" cy="590.80" r="2.5" fill="#000"/>
<circle cx="100.00" cy="598.40" r="2.5" fill="#000"/>
<polyline points="87.50,572.00 87.50,561.00 87.50,561.50 99.50,561.50 99.50,563.75" fill="none" stroke="#000" stroke-width="1.1"/>
<text x="94.5" y="561.2" font-size="9" text-anchor="middle" font-weight="bold">*</text>
<line x1="167.70" y1="554.80" x2="167.70" y2="648.20" stroke="#000" stroke-width="1.15"/>
<line x1="167.20" y1="647.70" x2="229.30" y2="647.70" stroke="#000" stroke-width="1.15"/>
<line x1="165.00" y1="647.70" x2="167.70" y2="647.70" stroke="#000" stroke-width="1.0"/>
<text x="164.39999999999998" y="651.2" font-size="10" text-anchor="end">0</text>
<line x1="165.00" y1="616.90" x2="167.70" y2="616.90" stroke="#000" stroke-width="1.0"/>
<text x="164.39999999999998" y="620.4" font-size="10" text-anchor="end">6,000</text>
<line x1="165.00" y1="586.10" x2="167.70" y2="586.10" stroke="#000" stroke-width="1.0"/>
<text x="164.39999999999998" y="589.6" font-size="10" text-anchor="end">12,000</text>
<line x1="165.00" y1="555.30" x2="167.70" y2="555.30" stroke="#000" stroke-width="1.0"/>
<text x="164.39999999999998" y="558.8" font-size="10" text-anchor="end">18,000</text>
<text x="196.3" y="546.3" font-size="10.2" text-anchor="middle" font-weight="bold">TNFα</text>
<line x1="181.50" y1="647.70" x2="181.50" y2="650.10" stroke="#000" stroke-width="1.0"/>
<line x1="214.50" y1="647.70" x2="214.50" y2="650.10" stroke="#000" stroke-width="1.0"/>
<text x="181.5" y="660" font-size="10.1" text-anchor="middle">HC</text>
<text x="215.2" y="660" font-size="10.1" text-anchor="middle">CRC</text>
<line x1="176.25" y1="605.50" x2="188.25" y2="585.00" stroke="#000" stroke-width="1.15"/>
<line x1="176.25" y1="608.00" x2="188.25" y2="593.00" stroke="#000" stroke-width="1.15"/>
<line x1="176.25" y1="610.75" x2="188.25" y2="600.00" stroke="#000" stroke-width="1.15"/>
<circle cx="176.25" cy="605.50" r="1.9" fill="#fff" stroke="#000" stroke-width="1.05"/>
<circle cx="176.25" cy="608.00" r="1.9" fill="#fff" stroke="#000" stroke-width="1.05"/>
<circle cx="176.25" cy="610.75" r="1.9" fill="#fff" stroke="#000" stroke-width="1.05"/>
<circle cx="188.25" cy="585.00" r="2.5" fill="#000"/>
<circle cx="188.25" cy="593.00" r="2.5" fill="#000"/>
<circle cx="188.25" cy="600.00" r="2.5" fill="#000"/>
<polyline points="175.50,599.50 175.50,578.00 175.50,578.50 188.50,578.50 188.50,581.25" fill="none" stroke="#000" stroke-width="1.1"/>
<text x="182" y="578.7" font-size="9" text-anchor="middle" font-weight="bold">*</text>
<line x1="208.75" y1="597.70" x2="221.25" y2="574.10" stroke="#000" stroke-width="0.9"/>
<line x1="208.75" y1="599.60" x2="221.25" y2="577.60" stroke="#000" stroke-width="0.9"/>
<line x1="208.75" y1="601.40" x2="221.25" y2="580.80" stroke="#000" stroke-width="0.9"/>
<line x1="208.75" y1="603.30" x2="221.25" y2="584.20" stroke="#000" stroke-width="0.9"/>
<line x1="208.75" y1="605.20" x2="221.25" y2="587.40" stroke="#000" stroke-width="0.9"/>
<line x1="208.75" y1="607.00" x2="221.25" y2="590.30" stroke="#000" stroke-width="0.9"/>
<line x1="208.75" y1="608.90" x2="221.25" y2="593.20" stroke="#000" stroke-width="0.9"/>
<line x1="208.75" y1="610.60" x2="221.25" y2="586.00" stroke="#000" stroke-width="0.9"/>
<line x1="208.75" y1="612.20" x2="221.25" y2="603.50" stroke="#000" stroke-width="0.9"/>
<circle cx="208.75" cy="597.70" r="1.9" fill="#fff" stroke="#000" stroke-width="1.05"/>
<circle cx="208.75" cy="599.60" r="1.9" fill="#fff" stroke="#000" stroke-width="1.05"/>
<circle cx="208.75" cy="601.40" r="1.9" fill="#fff" stroke="#000" stroke-width="1.05"/>
<circle cx="208.75" cy="603.30" r="1.9" fill="#fff" stroke="#000" stroke-width="1.05"/>
<circle cx="208.75" cy="605.20" r="1.9" fill="#fff" stroke="#000" stroke-width="1.05"/>
<circle cx="208.75" cy="607.00" r="1.9" fill="#fff" stroke="#000" stroke-width="1.05"/>
<circle cx="208.75" cy="608.90" r="1.9" fill="#fff" stroke="#000" stroke-width="1.05"/>
<circle cx="208.75" cy="610.60" r="1.9" fill="#fff" stroke="#000" stroke-width="1.05"/>
<circle cx="208.75" cy="612.20" r="1.9" fill="#fff" stroke="#000" stroke-width="1.05"/>
<circle cx="221.25" cy="574.10" r="2.5" fill="#000"/>
<circle cx="221.25" cy="577.60" r="2.5" fill="#000"/>
<circle cx="221.25" cy="580.80" r="2.5" fill="#000"/>
<circle cx="221.25" cy="584.20" r="2.5" fill="#000"/>
<circle cx="221.25" cy="587.40" r="2.5" fill="#000"/>
<circle cx="221.25" cy="590.30" r="2.5" fill="#000"/>
<circle cx="221.25" cy="593.20" r="2.5" fill="#000"/>
<circle cx="221.25" cy="586.00" r="2.5" fill="#000"/>
<circle cx="221.25" cy="603.50" r="2.5" fill="#000"/>
<polyline points="208.50,593.75 208.50,563.00 208.50,563.50 221.50,563.50 221.50,571.25" fill="none" stroke="#000" stroke-width="1.1"/>
<text x="214.5" y="563.7" font-size="9" text-anchor="middle" font-weight="bold" letter-spacing="0.45">****</text>
<line x1="282.70" y1="554.80" x2="282.70" y2="648.20" stroke="#000" stroke-width="1.15"/>
<line x1="282.20" y1="647.70" x2="345.00" y2="647.70" stroke="#000" stroke-width="1.15"/>
<line x1="280.00" y1="647.70" x2="282.70" y2="647.70" stroke="#000" stroke-width="1.0"/>
<text x="279.4" y="651.2" font-size="10" text-anchor="end">0</text>
<line x1="280.00" y1="616.90" x2="282.70" y2="616.90" stroke="#000" stroke-width="1.0"/>
<text x="279.4" y="620.4" font-size="10" text-anchor="end">1,500</text>
<line x1="280.00" y1="586.10" x2="282.70" y2="586.10" stroke="#000" stroke-width="1.0"/>
<text x="279.4" y="589.6" font-size="10" text-anchor="end">3,000</text>
<line x1="280.00" y1="555.30" x2="282.70" y2="555.30" stroke="#000" stroke-width="1.0"/>
<text x="279.4" y="558.8" font-size="10" text-anchor="end">4,500</text>
<text x="312" y="546.3" font-size="10.2" text-anchor="middle" font-weight="bold">IFNγ</text>
<line x1="296.70" y1="647.70" x2="296.70" y2="650.10" stroke="#000" stroke-width="1.0"/>
<line x1="329.50" y1="647.70" x2="329.50" y2="650.10" stroke="#000" stroke-width="1.0"/>
<text x="296.7" y="660" font-size="10.1" text-anchor="middle">HC</text>
<text x="330.2" y="660" font-size="10.1" text-anchor="middle">CRC</text>
<line x1="291.25" y1="616.75" x2="303.00" y2="620.75" stroke="#000" stroke-width="1.15"/>
<line x1="291.25" y1="620.50" x2="303.00" y2="622.50" stroke="#000" stroke-width="1.15"/>
<line x1="291.25" y1="628.25" x2="303.00" y2="624.25" stroke="#000" stroke-width="1.15"/>
<circle cx="291.25" cy="616.75" r="1.9" fill="#fff" stroke="#000" stroke-width="1.05"/>
<circle cx="291.25" cy="620.50" r="1.9" fill="#fff" stroke="#000" stroke-width="1.05"/>
<circle cx="291.25" cy="628.25" r="1.9" fill="#fff" stroke="#000" stroke-width="1.05"/>
<circle cx="303.00" cy="620.75" r="2.5" fill="#000"/>
<circle cx="303.00" cy="622.50" r="2.5" fill="#000"/>
<circle cx="303.00" cy="624.25" r="2.5" fill="#000"/>
<polyline points="292.50,613.75 292.50,609.00 292.50,609.50 304.50,609.50 304.50,613.75" fill="none" stroke="#000" stroke-width="1.1"/>
<text x="298.75" y="606.8" font-size="9" text-anchor="middle">ns</text>
<line x1="323.25" y1="616.75" x2="335.75" y2="580.00" stroke="#000" stroke-width="1.15"/>
<line x1="323.25" y1="616.75" x2="335.75" y2="614.25" stroke="#000" stroke-width="1.15"/>
<line x1="323.25" y1="619.50" x2="335.75" y2="616.25" stroke="#000" stroke-width="1.15"/>
<line x1="323.25" y1="623.25" x2="335.75" y2="618.75" stroke="#000" stroke-width="1.15"/>
<line x1="323.25" y1="632.00" x2="335.75" y2="620.50" stroke="#000" stroke-width="1.15"/>
<line x1="323.25" y1="633.25" x2="335.75" y2="622.50" stroke="#000" stroke-width="1.15"/>
<line x1="323.25" y1="633.25" x2="335.75" y2="628.75" stroke="#000" stroke-width="1.15"/>
<circle cx="323.25" cy="616.75" r="1.9" fill="#fff" stroke="#000" stroke-width="1.05"/>
<circle cx="323.25" cy="616.75" r="1.9" fill="#fff" stroke="#000" stroke-width="1.05"/>
<circle cx="323.25" cy="619.50" r="1.9" fill="#fff" stroke="#000" stroke-width="1.05"/>
<circle cx="323.25" cy="623.25" r="1.9" fill="#fff" stroke="#000" stroke-width="1.05"/>
<circle cx="323.25" cy="632.00" r="1.9" fill="#fff" stroke="#000" stroke-width="1.05"/>
<circle cx="323.25" cy="633.25" r="1.9" fill="#fff" stroke="#000" stroke-width="1.05"/>
<circle cx="323.25" cy="633.25" r="1.9" fill="#fff" stroke="#000" stroke-width="1.05"/>
<circle cx="335.75" cy="580.00" r="2.5" fill="#000"/>
<circle cx="335.75" cy="614.25" r="2.5" fill="#000"/>
<circle cx="335.75" cy="616.25" r="2.5" fill="#000"/>
<circle cx="335.75" cy="618.75" r="2.5" fill="#000"/>
<circle cx="335.75" cy="620.50" r="2.5" fill="#000"/>
<circle cx="335.75" cy="622.50" r="2.5" fill="#000"/>
<circle cx="335.75" cy="628.75" r="2.5" fill="#000"/>
<polyline points="322.50,604.50 322.50,571.00 322.50,571.50 335.50,571.50 335.50,575.75" fill="none" stroke="#000" stroke-width="1.1"/>
<text x="329.5" y="568.8" font-size="9" text-anchor="middle">ns</text>
<line x1="398.10" y1="554.80" x2="398.10" y2="648.20" stroke="#000" stroke-width="1.15"/>
<line x1="397.60" y1="647.70" x2="460.00" y2="647.70" stroke="#000" stroke-width="1.15"/>
<line x1="395.40" y1="647.70" x2="398.10" y2="647.70" stroke="#000" stroke-width="1.0"/>
<text x="394.8" y="651.2" font-size="10" text-anchor="end">0</text>
<line x1="395.40" y1="616.90" x2="398.10" y2="616.90" stroke="#000" stroke-width="1.0"/>
<text x="394.8" y="620.4" font-size="10" text-anchor="end">400</text>
<line x1="395.40" y1="586.10" x2="398.10" y2="586.10" stroke="#000" stroke-width="1.0"/>
<text x="394.8" y="589.6" font-size="10" text-anchor="end">800</text>
<line x1="395.40" y1="555.30" x2="398.10" y2="555.30" stroke="#000" stroke-width="1.0"/>
<text x="394.8" y="558.8" font-size="10" text-anchor="end">1,200</text>
<text x="426" y="546.3" font-size="10.2" text-anchor="middle" font-weight="bold">IL10</text>
<line x1="411.50" y1="647.70" x2="411.50" y2="650.10" stroke="#000" stroke-width="1.0"/>
<line x1="444.50" y1="647.70" x2="444.50" y2="650.10" stroke="#000" stroke-width="1.0"/>
<text x="411.5" y="660" font-size="10.1" text-anchor="middle">HC</text>
<text x="445.2" y="660" font-size="10.1" text-anchor="middle">CRC</text>
<line x1="406.20" y1="589.60" x2="417.80" y2="606.00" stroke="#000" stroke-width="1.15"/>
<line x1="406.20" y1="593.30" x2="417.80" y2="592.00" stroke="#000" stroke-width="1.15"/>
<line x1="406.20" y1="620.40" x2="417.80" y2="622.50" stroke="#000" stroke-width="1.15"/>
<circle cx="406.20" cy="589.60" r="1.9" fill="#fff" stroke="#000" stroke-width="1.05"/>
<circle cx="406.20" cy="593.30" r="1.9" fill="#fff" stroke="#000" stroke-width="1.05"/>
<circle cx="406.20" cy="620.40" r="1.9" fill="#fff" stroke="#000" stroke-width="1.05"/>
<circle cx="417.80" cy="606.00" r="2.5" fill="#000"/>
<circle cx="417.80" cy="592.00" r="2.5" fill="#000"/>
<circle cx="417.80" cy="622.50" r="2.5" fill="#000"/>
<polyline points="406.50,585.60 406.50,581.00 406.50,581.50 418.50,581.50 418.50,585.60" fill="none" stroke="#000" stroke-width="1.1"/>
<text x="413" y="580" font-size="9" text-anchor="middle">ns</text>
<line x1="439.00" y1="577.30" x2="451.40" y2="593.30" stroke="#000" stroke-width="1.15"/>
<line x1="439.00" y1="582.00" x2="451.40" y2="598.20" stroke="#000" stroke-width="1.15"/>
<line x1="439.00" y1="592.70" x2="451.40" y2="590.20" stroke="#000" stroke-width="1.15"/>
<line x1="439.00" y1="602.50" x2="451.40" y2="581.30" stroke="#000" stroke-width="1.15"/>
<line x1="439.00" y1="609.00" x2="451.40" y2="596.40" stroke="#000" stroke-width="1.15"/>
<line x1="439.00" y1="620.40" x2="451.40" y2="613.60" stroke="#000" stroke-width="1.15"/>
<line x1="439.00" y1="622.80" x2="451.40" y2="615.80" stroke="#000" stroke-width="1.15"/>
<line x1="439.00" y1="626.00" x2="451.40" y2="617.30" stroke="#000" stroke-width="1.15"/>
<line x1="439.00" y1="626.00" x2="451.40" y2="621.00" stroke="#000" stroke-width="1.15"/>
<circle cx="439.00" cy="577.30" r="1.9" fill="#fff" stroke="#000" stroke-width="1.05"/>
<circle cx="439.00" cy="582.00" r="1.9" fill="#fff" stroke="#000" stroke-width="1.05"/>
<circle cx="439.00" cy="592.70" r="1.9" fill="#fff" stroke="#000" stroke-width="1.05"/>
<circle cx="439.00" cy="602.50" r="1.9" fill="#fff" stroke="#000" stroke-width="1.05"/>
<circle cx="439.00" cy="609.00" r="1.9" fill="#fff" stroke="#000" stroke-width="1.05"/>
<circle cx="439.00" cy="620.40" r="1.9" fill="#fff" stroke="#000" stroke-width="1.05"/>
<circle cx="439.00" cy="622.80" r="1.9" fill="#fff" stroke="#000" stroke-width="1.05"/>
<circle cx="439.00" cy="626.00" r="1.9" fill="#fff" stroke="#000" stroke-width="1.05"/>
<circle cx="439.00" cy="626.00" r="1.9" fill="#fff" stroke="#000" stroke-width="1.05"/>
<circle cx="451.40" cy="593.30" r="2.5" fill="#000"/>
<circle cx="451.40" cy="598.20" r="2.5" fill="#000"/>
<circle cx="451.40" cy="590.20" r="2.5" fill="#000"/>
<circle cx="451.40" cy="581.30" r="2.5" fill="#000"/>
<circle cx="451.40" cy="596.40" r="2.5" fill="#000"/>
<circle cx="451.40" cy="613.60" r="2.5" fill="#000"/>
<circle cx="451.40" cy="615.80" r="2.5" fill="#000"/>
<circle cx="451.40" cy="617.30" r="2.5" fill="#000"/>
<circle cx="451.40" cy="621.00" r="2.5" fill="#000"/>
<polyline points="438.50,574.20 438.50,570.00 438.50,570.50 451.50,570.50 451.50,574.20" fill="none" stroke="#000" stroke-width="1.1"/>
<text x="445.2" y="568.6" font-size="9" text-anchor="middle">ns</text>
<line x1="465.20" y1="557.60" x2="477.00" y2="557.60" stroke="#000" stroke-width="1.2"/>
<circle cx="471.00" cy="557.60" r="1.8" fill="#fff" stroke="#000" stroke-width="1.05"/>
<line x1="465.20" y1="569.80" x2="477.00" y2="569.80" stroke="#000" stroke-width="1.2"/>
<circle cx="471.00" cy="569.80" r="2.5" fill="#000"/>
<text x="481" y="560.8" font-size="10.4">GPR15<tspan font-size="78%" dy="-0.42em">−</tspan></text>
<text x="481" y="573.1" font-size="10.4">GPR15<tspan font-size="78%" dy="-0.42em">+</tspan></text>
</svg>
</body></html>
